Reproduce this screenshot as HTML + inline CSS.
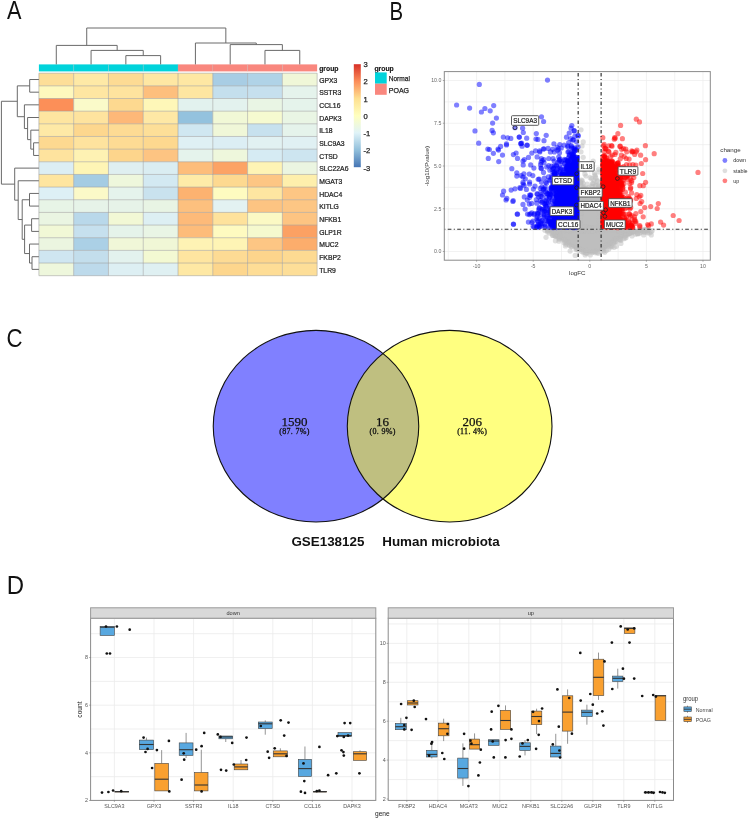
<!DOCTYPE html>
<html><head><meta charset="utf-8"><style>
html,body{margin:0;padding:0;background:#fff;}
svg{display:block;font-family:"Liberation Sans",sans-serif;will-change:transform;}
</style></head><body>
<svg width="749" height="819" viewBox="0 0 749 819">
<rect width="749" height="819" fill="#fff"/>
<text transform="translate(6.9 19.0) scale(0.85 1)" font-size="25.5" fill="#111">A</text>
<text transform="translate(389.5 19.8) scale(0.80 1)" font-size="25.5" fill="#111">B</text>
<text transform="translate(6.4 346.7) scale(0.87 1)" font-size="25.5" fill="#111">C</text>
<text transform="translate(6.8 594.4) scale(0.94 1)" font-size="25.5" fill="#111">D</text>
<rect x="38.90" y="73.20" width="34.78" height="12.66" fill="#FDDE98"/>
<rect x="73.68" y="73.20" width="34.78" height="12.66" fill="#FEE9A6"/>
<rect x="108.46" y="73.20" width="34.78" height="12.66" fill="#FDDB94"/>
<rect x="143.24" y="73.20" width="34.78" height="12.66" fill="#FEE7A3"/>
<rect x="178.02" y="73.20" width="34.78" height="12.66" fill="#FEE7A3"/>
<rect x="212.80" y="73.20" width="34.78" height="12.66" fill="#A8CDE4"/>
<rect x="247.58" y="73.20" width="34.78" height="12.66" fill="#B0D3E7"/>
<rect x="282.36" y="73.20" width="34.78" height="12.66" fill="#F0F7D8"/>
<rect x="38.90" y="85.86" width="34.78" height="12.66" fill="#FEF8BD"/>
<rect x="73.68" y="85.86" width="34.78" height="12.66" fill="#FEE6A2"/>
<rect x="108.46" y="85.86" width="34.78" height="12.66" fill="#FEE39E"/>
<rect x="143.24" y="85.86" width="34.78" height="12.66" fill="#FDBF7D"/>
<rect x="178.02" y="85.86" width="34.78" height="12.66" fill="#FEE6A1"/>
<rect x="212.80" y="85.86" width="34.78" height="12.66" fill="#C4DFED"/>
<rect x="247.58" y="85.86" width="34.78" height="12.66" fill="#C6E0EE"/>
<rect x="282.36" y="85.86" width="34.78" height="12.66" fill="#E5F3EC"/>
<rect x="38.90" y="98.51" width="34.78" height="12.66" fill="#FC8F58"/>
<rect x="73.68" y="98.51" width="34.78" height="12.66" fill="#FAFAC9"/>
<rect x="108.46" y="98.51" width="34.78" height="12.66" fill="#FDD990"/>
<rect x="143.24" y="98.51" width="34.78" height="12.66" fill="#FEF7B8"/>
<rect x="178.02" y="98.51" width="34.78" height="12.66" fill="#E2F2EE"/>
<rect x="212.80" y="98.51" width="34.78" height="12.66" fill="#E3F2EE"/>
<rect x="247.58" y="98.51" width="34.78" height="12.66" fill="#E9F5E4"/>
<rect x="282.36" y="98.51" width="34.78" height="12.66" fill="#E5F3EB"/>
<rect x="38.90" y="111.17" width="34.78" height="12.66" fill="#FEE5A0"/>
<rect x="73.68" y="111.17" width="34.78" height="12.66" fill="#FEE39E"/>
<rect x="108.46" y="111.17" width="34.78" height="12.66" fill="#FDB878"/>
<rect x="143.24" y="111.17" width="34.78" height="12.66" fill="#FEE8A5"/>
<rect x="178.02" y="111.17" width="34.78" height="12.66" fill="#94C2DE"/>
<rect x="212.80" y="111.17" width="34.78" height="12.66" fill="#F1F8D6"/>
<rect x="247.58" y="111.17" width="34.78" height="12.66" fill="#F6FAD0"/>
<rect x="282.36" y="111.17" width="34.78" height="12.66" fill="#E9F5E4"/>
<rect x="38.90" y="123.82" width="34.78" height="12.66" fill="#FEE9A6"/>
<rect x="73.68" y="123.82" width="34.78" height="12.66" fill="#FDD78E"/>
<rect x="108.46" y="123.82" width="34.78" height="12.66" fill="#FDDB94"/>
<rect x="143.24" y="123.82" width="34.78" height="12.66" fill="#FDDF98"/>
<rect x="178.02" y="123.82" width="34.78" height="12.66" fill="#D0E7F1"/>
<rect x="212.80" y="123.82" width="34.78" height="12.66" fill="#F0F7D8"/>
<rect x="247.58" y="123.82" width="34.78" height="12.66" fill="#C7E1EE"/>
<rect x="282.36" y="123.82" width="34.78" height="12.66" fill="#E5F3EB"/>
<rect x="38.90" y="136.48" width="34.78" height="12.66" fill="#FDD990"/>
<rect x="73.68" y="136.48" width="34.78" height="12.66" fill="#FEE39E"/>
<rect x="108.46" y="136.48" width="34.78" height="12.66" fill="#FDDB94"/>
<rect x="143.24" y="136.48" width="34.78" height="12.66" fill="#FDD88F"/>
<rect x="178.02" y="136.48" width="34.78" height="12.66" fill="#DFF0F4"/>
<rect x="212.80" y="136.48" width="34.78" height="12.66" fill="#DCEEF4"/>
<rect x="247.58" y="136.48" width="34.78" height="12.66" fill="#E1F1F2"/>
<rect x="282.36" y="136.48" width="34.78" height="12.66" fill="#E0F0F3"/>
<rect x="38.90" y="149.14" width="34.78" height="12.66" fill="#FEE39E"/>
<rect x="73.68" y="149.14" width="34.78" height="12.66" fill="#FEF2B3"/>
<rect x="108.46" y="149.14" width="34.78" height="12.66" fill="#FDD58C"/>
<rect x="143.24" y="149.14" width="34.78" height="12.66" fill="#FDC482"/>
<rect x="178.02" y="149.14" width="34.78" height="12.66" fill="#E5F3EC"/>
<rect x="212.80" y="149.14" width="34.78" height="12.66" fill="#EEF7DC"/>
<rect x="247.58" y="149.14" width="34.78" height="12.66" fill="#D6EBF3"/>
<rect x="282.36" y="149.14" width="34.78" height="12.66" fill="#CDE5F0"/>
<rect x="38.90" y="161.79" width="34.78" height="12.66" fill="#DCEEF4"/>
<rect x="73.68" y="161.79" width="34.78" height="12.66" fill="#FEF5B5"/>
<rect x="108.46" y="161.79" width="34.78" height="12.66" fill="#DFEFF0"/>
<rect x="143.24" y="161.79" width="34.78" height="12.66" fill="#DAEDF2"/>
<rect x="178.02" y="161.79" width="34.78" height="12.66" fill="#FDBD7B"/>
<rect x="212.80" y="161.79" width="34.78" height="12.66" fill="#FCA365"/>
<rect x="247.58" y="161.79" width="34.78" height="12.66" fill="#FEF4B5"/>
<rect x="282.36" y="161.79" width="34.78" height="12.66" fill="#EBF5E1"/>
<rect x="38.90" y="174.45" width="34.78" height="12.66" fill="#FEE59F"/>
<rect x="73.68" y="174.45" width="34.78" height="12.66" fill="#A5CCE3"/>
<rect x="108.46" y="174.45" width="34.78" height="12.66" fill="#EEF7DC"/>
<rect x="143.24" y="174.45" width="34.78" height="12.66" fill="#D3E9F2"/>
<rect x="178.02" y="174.45" width="34.78" height="12.66" fill="#FEEBA8"/>
<rect x="212.80" y="174.45" width="34.78" height="12.66" fill="#FDD990"/>
<rect x="247.58" y="174.45" width="34.78" height="12.66" fill="#FDC684"/>
<rect x="282.36" y="174.45" width="34.78" height="12.66" fill="#FEEFAC"/>
<rect x="38.90" y="187.10" width="34.78" height="12.66" fill="#DDF0F5"/>
<rect x="73.68" y="187.10" width="34.78" height="12.66" fill="#FBF9C8"/>
<rect x="108.46" y="187.10" width="34.78" height="12.66" fill="#E5F3EC"/>
<rect x="143.24" y="187.10" width="34.78" height="12.66" fill="#C9E2EE"/>
<rect x="178.02" y="187.10" width="34.78" height="12.66" fill="#FCB270"/>
<rect x="212.80" y="187.10" width="34.78" height="12.66" fill="#FEFBC0"/>
<rect x="247.58" y="187.10" width="34.78" height="12.66" fill="#FEE6A1"/>
<rect x="282.36" y="187.10" width="34.78" height="12.66" fill="#FDC684"/>
<rect x="38.90" y="199.76" width="34.78" height="12.66" fill="#E7F4E6"/>
<rect x="73.68" y="199.76" width="34.78" height="12.66" fill="#E6F3E8"/>
<rect x="108.46" y="199.76" width="34.78" height="12.66" fill="#E6F3E8"/>
<rect x="143.24" y="199.76" width="34.78" height="12.66" fill="#E8F4E4"/>
<rect x="178.02" y="199.76" width="34.78" height="12.66" fill="#FDC07E"/>
<rect x="212.80" y="199.76" width="34.78" height="12.66" fill="#E3F2F2"/>
<rect x="247.58" y="199.76" width="34.78" height="12.66" fill="#FDC482"/>
<rect x="282.36" y="199.76" width="34.78" height="12.66" fill="#FDC684"/>
<rect x="38.90" y="212.42" width="34.78" height="12.66" fill="#EAF5E2"/>
<rect x="73.68" y="212.42" width="34.78" height="12.66" fill="#B9D8EA"/>
<rect x="108.46" y="212.42" width="34.78" height="12.66" fill="#F2F8D5"/>
<rect x="143.24" y="212.42" width="34.78" height="12.66" fill="#DDEFF3"/>
<rect x="178.02" y="212.42" width="34.78" height="12.66" fill="#FDBA79"/>
<rect x="212.80" y="212.42" width="34.78" height="12.66" fill="#FEE29C"/>
<rect x="247.58" y="212.42" width="34.78" height="12.66" fill="#FBF9C4"/>
<rect x="282.36" y="212.42" width="34.78" height="12.66" fill="#FDC482"/>
<rect x="38.90" y="225.07" width="34.78" height="12.66" fill="#F1F8D6"/>
<rect x="73.68" y="225.07" width="34.78" height="12.66" fill="#C6E0EE"/>
<rect x="108.46" y="225.07" width="34.78" height="12.66" fill="#E5F3EA"/>
<rect x="143.24" y="225.07" width="34.78" height="12.66" fill="#E9F5E5"/>
<rect x="178.02" y="225.07" width="34.78" height="12.66" fill="#FDBC7A"/>
<rect x="212.80" y="225.07" width="34.78" height="12.66" fill="#FEFAC0"/>
<rect x="247.58" y="225.07" width="34.78" height="12.66" fill="#F5F9CE"/>
<rect x="282.36" y="225.07" width="34.78" height="12.66" fill="#FCA163"/>
<rect x="38.90" y="237.73" width="34.78" height="12.66" fill="#EBF5E0"/>
<rect x="73.68" y="237.73" width="34.78" height="12.66" fill="#ABD0E6"/>
<rect x="108.46" y="237.73" width="34.78" height="12.66" fill="#F0F7D8"/>
<rect x="143.24" y="237.73" width="34.78" height="12.66" fill="#F0F7D6"/>
<rect x="178.02" y="237.73" width="34.78" height="12.66" fill="#FEF3B4"/>
<rect x="212.80" y="237.73" width="34.78" height="12.66" fill="#FEF4B5"/>
<rect x="247.58" y="237.73" width="34.78" height="12.66" fill="#FDC684"/>
<rect x="282.36" y="237.73" width="34.78" height="12.66" fill="#FCAD6C"/>
<rect x="38.90" y="250.38" width="34.78" height="12.66" fill="#CFE6F1"/>
<rect x="73.68" y="250.38" width="34.78" height="12.66" fill="#C3DEEC"/>
<rect x="108.46" y="250.38" width="34.78" height="12.66" fill="#E3F2EE"/>
<rect x="143.24" y="250.38" width="34.78" height="12.66" fill="#F3F9D2"/>
<rect x="178.02" y="250.38" width="34.78" height="12.66" fill="#FEE5A0"/>
<rect x="212.80" y="250.38" width="34.78" height="12.66" fill="#FDDB94"/>
<rect x="247.58" y="250.38" width="34.78" height="12.66" fill="#FDD58C"/>
<rect x="282.36" y="250.38" width="34.78" height="12.66" fill="#FDDA92"/>
<rect x="38.90" y="263.04" width="34.78" height="12.66" fill="#EEF7DC"/>
<rect x="73.68" y="263.04" width="34.78" height="12.66" fill="#BDDAEB"/>
<rect x="108.46" y="263.04" width="34.78" height="12.66" fill="#DDEFF3"/>
<rect x="143.24" y="263.04" width="34.78" height="12.66" fill="#DFF0F2"/>
<rect x="178.02" y="263.04" width="34.78" height="12.66" fill="#FEE8A4"/>
<rect x="212.80" y="263.04" width="34.78" height="12.66" fill="#FDD68D"/>
<rect x="247.58" y="263.04" width="34.78" height="12.66" fill="#FEDD96"/>
<rect x="282.36" y="263.04" width="34.78" height="12.66" fill="#FDDE98"/>
<path d="M38.90 73.20V275.70M73.68 73.20V275.70M108.46 73.20V275.70M143.24 73.20V275.70M178.02 73.20V275.70M212.80 73.20V275.70M247.58 73.20V275.70M282.36 73.20V275.70M317.14 73.20V275.70M38.90 73.20H317.14M38.90 85.86H317.14M38.90 98.51H317.14M38.90 111.17H317.14M38.90 123.82H317.14M38.90 136.48H317.14M38.90 149.14H317.14M38.90 161.79H317.14M38.90 174.45H317.14M38.90 187.10H317.14M38.90 199.76H317.14M38.90 212.42H317.14M38.90 225.07H317.14M38.90 237.73H317.14M38.90 250.38H317.14M38.90 263.04H317.14M38.90 275.70H317.14" stroke="#999" stroke-width="0.7" stroke-opacity="0.75" fill="none"/>
<rect x="38.90" y="64.40" width="34.78" height="7.00" fill="#00D3DB"/>
<rect x="73.68" y="64.40" width="34.78" height="7.00" fill="#00D3DB"/>
<rect x="108.46" y="64.40" width="34.78" height="7.00" fill="#00D3DB"/>
<rect x="143.24" y="64.40" width="34.78" height="7.00" fill="#00D3DB"/>
<rect x="178.02" y="64.40" width="34.78" height="7.00" fill="#F9877E"/>
<rect x="212.80" y="64.40" width="34.78" height="7.00" fill="#F9877E"/>
<rect x="247.58" y="64.40" width="34.78" height="7.00" fill="#F9877E"/>
<rect x="282.36" y="64.40" width="34.78" height="7.00" fill="#F9877E"/>
<path d="M73.68 64.40V71.40M108.46 64.40V71.40M143.24 64.40V71.40M178.02 64.40V71.40M212.80 64.40V71.40M247.58 64.40V71.40M282.36 64.40V71.40" stroke="#b0b0b0" stroke-width="0.6" fill="none" opacity="0.6"/>
<path d="M125.85 64.40V55.60H160.63V64.40M91.07 64.40V50.40H143.24V55.60M56.29 64.40V45.40H117.16V50.40M264.97 64.40V50.40H299.75V64.40M230.19 64.40V44.60H282.36V50.40M195.41 64.40V43.00H256.28V44.60M86.72 45.40V28.00H225.84V43.00" stroke="#6a6a6a" stroke-width="1" fill="none"/>
<path d="M38.90 142.81H33.60V155.46H38.90M38.90 130.15H30.80V149.14H33.60M38.90 117.50H27.60V139.64H30.80M38.90 104.84H24.40V128.57H27.60M38.90 79.53H29.70V92.18H38.90M29.70 85.86H17.30V116.70H24.40M38.90 256.71H32.00V269.37H38.90M38.90 244.06H29.50V263.04H32.00M38.90 218.74H31.60V231.40H38.90M31.60 225.07H24.60V253.55H29.50M38.90 193.43H29.50V206.09H38.90M29.50 199.76H22.20V239.31H24.60M38.90 180.78H18.20V219.54H22.20M38.90 168.12H14.70V200.16H18.20M17.30 101.28H1.40V184.14H14.70" stroke="#6a6a6a" stroke-width="1" fill="none"/>
<g transform="translate(319.2 0) scale(0.9 1)">
<text x="0" y="70.90" font-size="7.6" font-weight="bold" fill="#1a1a1a" stroke="#1a1a1a" stroke-width="0.2">group</text>
<text x="0" y="82.83" font-size="7.6" fill="#222" stroke="#222" stroke-width="0.25">GPX3</text>
<text x="0" y="95.48" font-size="7.6" fill="#222" stroke="#222" stroke-width="0.25">SSTR3</text>
<text x="0" y="108.14" font-size="7.6" fill="#222" stroke="#222" stroke-width="0.25">CCL16</text>
<text x="0" y="120.80" font-size="7.6" fill="#222" stroke="#222" stroke-width="0.25">DAPK3</text>
<text x="0" y="133.45" font-size="7.6" fill="#222" stroke="#222" stroke-width="0.25">IL18</text>
<text x="0" y="146.11" font-size="7.6" fill="#222" stroke="#222" stroke-width="0.25">SLC9A3</text>
<text x="0" y="158.76" font-size="7.6" fill="#222" stroke="#222" stroke-width="0.25">CTSD</text>
<text x="0" y="171.42" font-size="7.6" fill="#222" stroke="#222" stroke-width="0.25">SLC22A6</text>
<text x="0" y="184.08" font-size="7.6" fill="#222" stroke="#222" stroke-width="0.25">MGAT3</text>
<text x="0" y="196.73" font-size="7.6" fill="#222" stroke="#222" stroke-width="0.25">HDAC4</text>
<text x="0" y="209.39" font-size="7.6" fill="#222" stroke="#222" stroke-width="0.25">KITLG</text>
<text x="0" y="222.04" font-size="7.6" fill="#222" stroke="#222" stroke-width="0.25">NFKB1</text>
<text x="0" y="234.70" font-size="7.6" fill="#222" stroke="#222" stroke-width="0.25">GLP1R</text>
<text x="0" y="247.36" font-size="7.6" fill="#222" stroke="#222" stroke-width="0.25">MUC2</text>
<text x="0" y="260.01" font-size="7.6" fill="#222" stroke="#222" stroke-width="0.25">FKBP2</text>
<text x="0" y="272.67" font-size="7.6" fill="#222" stroke="#222" stroke-width="0.25">TLR9</text>
</g>
<defs><linearGradient id="hg" x1="0" y1="0" x2="0" y2="1"><stop offset="0" stop-color="#D73027"/><stop offset="0.1667" stop-color="#FC8D59"/><stop offset="0.3333" stop-color="#FEE090"/><stop offset="0.5" stop-color="#FFFFBF"/><stop offset="0.6667" stop-color="#E0F3F8"/><stop offset="0.8333" stop-color="#91BFDB"/><stop offset="1" stop-color="#4575B4"/></linearGradient></defs>
<rect x="353.8" y="64.2" width="7" height="103" fill="url(#hg)"/>
<text x="363.4" y="67.20" font-size="7.6" fill="#222" stroke="#222" stroke-width="0.25">3</text>
<text x="363.4" y="84.45" font-size="7.6" fill="#222" stroke="#222" stroke-width="0.25">2</text>
<text x="363.4" y="101.70" font-size="7.6" fill="#222" stroke="#222" stroke-width="0.25">1</text>
<text x="363.4" y="118.95" font-size="7.6" fill="#222" stroke="#222" stroke-width="0.25">0</text>
<text x="363.4" y="136.20" font-size="7.6" fill="#222" stroke="#222" stroke-width="0.25">-1</text>
<text x="363.4" y="153.45" font-size="7.6" fill="#222" stroke="#222" stroke-width="0.25">-2</text>
<text x="363.4" y="170.70" font-size="7.6" fill="#222" stroke="#222" stroke-width="0.25">-3</text>
<text transform="translate(374.4 70.6) scale(0.9 1)" font-size="7.6" font-weight="bold" fill="#1a1a1a" stroke="#1a1a1a" stroke-width="0.2">group</text>
<rect x="375" y="72.4" width="11.7" height="11.3" fill="#00D3DB"/>
<rect x="375" y="83.7" width="11.7" height="11.1" fill="#F9877E"/>
<text x="388.7" y="81.1" textLength="21.2" lengthAdjust="spacingAndGlyphs" font-size="7.6" fill="#222" stroke="#222" stroke-width="0.25">Normal</text>
<text x="388.7" y="92.7" textLength="20.4" lengthAdjust="spacingAndGlyphs" font-size="7.6" fill="#222" stroke="#222" stroke-width="0.25">POAG</text>
<rect x="444.30" y="71.60" width="266.00" height="188.60" fill="#fff"/>
<path d="M448.30 71.60V260.20M476.60 71.60V260.20M504.90 71.60V260.20M533.20 71.60V260.20M561.50 71.60V260.20M589.80 71.60V260.20M618.10 71.60V260.20M646.40 71.60V260.20M674.70 71.60V260.20M703.00 71.60V260.20M444.30 251.50H710.30M444.30 230.12H710.30M444.30 208.75H710.30M444.30 187.38H710.30M444.30 166.00H710.30M444.30 144.62H710.30M444.30 123.25H710.30M444.30 101.88H710.30M444.30 80.50H710.30" stroke="#ececec" stroke-width="0.7" fill="none"/>
<polygon points="546.7,229.0 551.0,234.0 556.0,238.0 563.0,241.0 570.0,246.0 574.4,249.0 582.0,252.0 590.0,253.4 598.0,252.0 605.0,249.0 611.0,245.0 616.0,241.0 625.0,237.0 638.0,233.0 652.0,230.0 652.0,228.8" fill="#BEBEBE"/>
<polygon points="578.5,228.8 578.5,200.0 581.0,192.0 590.0,196.0 598.0,192.0 601.5,200.0 601.5,228.8" fill="#BEBEBE"/>
<g fill="#BEBEBE" fill-opacity="0.5"><circle cx="618.1" cy="231.2" r="2.60"/><circle cx="583.9" cy="230.8" r="2.60"/><circle cx="554.9" cy="235.2" r="2.60"/><circle cx="547.5" cy="230.8" r="2.60"/><circle cx="569.3" cy="244.6" r="2.60"/><circle cx="630.9" cy="233.3" r="2.60"/><circle cx="594.7" cy="251.7" r="2.60"/><circle cx="554.1" cy="230.8" r="2.60"/><circle cx="555.5" cy="235.9" r="2.60"/><circle cx="644.6" cy="231.4" r="2.60"/><circle cx="571.5" cy="229.4" r="2.60"/><circle cx="614.1" cy="247.3" r="2.60"/><circle cx="580.8" cy="230.7" r="2.60"/><circle cx="583.6" cy="229.9" r="2.60"/><circle cx="639.5" cy="233.6" r="2.60"/><circle cx="605.2" cy="230.0" r="2.60"/><circle cx="567.2" cy="243.1" r="2.60"/><circle cx="636.0" cy="231.5" r="2.60"/><circle cx="555.7" cy="229.6" r="2.60"/><circle cx="592.1" cy="252.6" r="2.60"/><circle cx="602.8" cy="229.8" r="2.60"/><circle cx="562.0" cy="229.4" r="2.60"/><circle cx="634.1" cy="232.1" r="2.60"/><circle cx="613.5" cy="242.8" r="2.60"/><circle cx="593.1" cy="231.2" r="2.60"/><circle cx="578.2" cy="248.6" r="2.60"/><circle cx="601.5" cy="231.0" r="2.60"/><circle cx="571.9" cy="230.3" r="2.60"/><circle cx="550.7" cy="230.8" r="2.60"/><circle cx="591.0" cy="231.2" r="2.60"/><circle cx="642.7" cy="231.0" r="2.60"/><circle cx="553.1" cy="233.6" r="2.60"/><circle cx="576.6" cy="249.6" r="2.60"/><circle cx="581.6" cy="229.7" r="2.60"/><circle cx="599.4" cy="251.6" r="2.60"/><circle cx="581.7" cy="230.7" r="2.60"/><circle cx="558.9" cy="241.2" r="2.60"/><circle cx="582.8" cy="229.3" r="2.60"/><circle cx="564.1" cy="242.8" r="2.60"/><circle cx="587.9" cy="230.4" r="2.60"/><circle cx="610.3" cy="243.4" r="2.60"/><circle cx="617.2" cy="230.4" r="2.60"/><circle cx="637.5" cy="233.0" r="2.60"/><circle cx="598.7" cy="229.3" r="2.60"/><circle cx="619.1" cy="231.0" r="2.60"/><circle cx="570.3" cy="231.2" r="2.60"/><circle cx="627.5" cy="234.7" r="2.60"/><circle cx="549.3" cy="233.2" r="2.60"/><circle cx="595.1" cy="251.2" r="2.60"/><circle cx="624.4" cy="235.4" r="2.60"/><circle cx="598.3" cy="229.9" r="2.60"/><circle cx="640.8" cy="229.3" r="2.60"/><circle cx="640.7" cy="232.5" r="2.60"/><circle cx="562.8" cy="239.2" r="2.60"/><circle cx="626.3" cy="230.6" r="2.60"/><circle cx="575.7" cy="249.0" r="2.60"/><circle cx="571.2" cy="246.8" r="2.60"/><circle cx="580.6" cy="230.9" r="2.60"/><circle cx="555.4" cy="236.0" r="2.60"/><circle cx="612.1" cy="229.5" r="2.60"/><circle cx="576.9" cy="229.8" r="2.60"/><circle cx="620.9" cy="240.5" r="2.60"/><circle cx="619.7" cy="239.4" r="2.60"/><circle cx="647.6" cy="230.1" r="2.60"/><circle cx="626.0" cy="237.7" r="2.60"/><circle cx="568.1" cy="242.0" r="2.60"/><circle cx="547.8" cy="230.2" r="2.60"/><circle cx="611.5" cy="245.8" r="2.60"/><circle cx="611.9" cy="246.7" r="2.60"/><circle cx="547.6" cy="232.0" r="2.60"/><circle cx="606.0" cy="246.3" r="2.60"/><circle cx="557.5" cy="236.8" r="2.60"/><circle cx="597.9" cy="230.7" r="2.60"/><circle cx="586.5" cy="253.4" r="2.60"/><circle cx="554.8" cy="235.9" r="2.60"/><circle cx="647.7" cy="230.4" r="2.60"/><circle cx="630.9" cy="230.3" r="2.60"/><circle cx="555.4" cy="240.8" r="2.60"/><circle cx="582.1" cy="249.5" r="2.60"/><circle cx="583.2" cy="252.6" r="2.60"/><circle cx="629.2" cy="230.5" r="2.60"/><circle cx="610.3" cy="247.0" r="2.60"/><circle cx="613.9" cy="240.8" r="2.60"/><circle cx="647.5" cy="232.8" r="2.60"/><circle cx="618.4" cy="229.8" r="2.60"/><circle cx="610.0" cy="245.0" r="2.60"/><circle cx="614.9" cy="242.0" r="2.60"/><circle cx="568.5" cy="230.8" r="2.60"/><circle cx="613.0" cy="242.8" r="2.60"/><circle cx="637.6" cy="233.9" r="2.60"/><circle cx="576.0" cy="230.5" r="2.60"/><circle cx="552.6" cy="235.5" r="2.60"/><circle cx="580.3" cy="249.3" r="2.60"/><circle cx="645.6" cy="229.7" r="2.60"/><circle cx="565.4" cy="245.9" r="2.60"/><circle cx="649.3" cy="233.1" r="2.60"/><circle cx="557.0" cy="230.0" r="2.60"/><circle cx="628.4" cy="231.0" r="2.60"/><circle cx="583.6" cy="251.1" r="2.60"/><circle cx="647.0" cy="231.0" r="2.60"/><circle cx="614.2" cy="230.1" r="2.60"/><circle cx="643.5" cy="231.7" r="2.60"/><circle cx="560.4" cy="229.3" r="2.60"/><circle cx="635.6" cy="234.2" r="2.60"/><circle cx="581.7" cy="251.5" r="2.60"/><circle cx="615.4" cy="238.8" r="2.60"/><circle cx="587.4" cy="253.1" r="2.60"/><circle cx="646.6" cy="229.9" r="2.60"/><circle cx="585.5" cy="252.9" r="2.60"/><circle cx="629.0" cy="233.8" r="2.60"/><circle cx="595.4" cy="252.9" r="2.60"/><circle cx="559.3" cy="238.0" r="2.60"/><circle cx="564.8" cy="239.6" r="2.60"/><circle cx="614.6" cy="240.2" r="2.60"/><circle cx="608.9" cy="243.7" r="2.60"/><circle cx="623.8" cy="238.7" r="2.60"/><circle cx="616.1" cy="241.8" r="2.60"/><circle cx="562.3" cy="229.3" r="2.60"/><circle cx="619.1" cy="238.9" r="2.60"/><circle cx="642.5" cy="230.8" r="2.60"/><circle cx="603.7" cy="249.1" r="2.60"/><circle cx="599.2" cy="230.8" r="2.60"/><circle cx="604.7" cy="252.3" r="2.60"/><circle cx="590.3" cy="254.9" r="2.60"/><circle cx="616.4" cy="246.3" r="2.60"/><circle cx="598.2" cy="253.3" r="2.60"/><circle cx="603.1" cy="249.9" r="2.60"/><circle cx="546.0" cy="237.3" r="2.60"/><circle cx="561.8" cy="230.2" r="2.60"/><circle cx="652.1" cy="230.7" r="2.60"/><circle cx="558.2" cy="229.7" r="2.60"/><circle cx="555.5" cy="229.7" r="2.60"/><circle cx="626.1" cy="229.6" r="2.60"/><circle cx="577.3" cy="248.8" r="2.60"/><circle cx="586.3" cy="250.3" r="2.60"/><circle cx="574.0" cy="229.3" r="2.60"/><circle cx="606.4" cy="250.6" r="2.60"/><circle cx="557.9" cy="230.4" r="2.60"/><circle cx="602.3" cy="229.8" r="2.60"/><circle cx="570.5" cy="230.3" r="2.60"/><circle cx="607.7" cy="246.4" r="2.60"/><circle cx="620.4" cy="239.8" r="2.60"/><circle cx="566.6" cy="230.3" r="2.60"/><circle cx="640.5" cy="230.5" r="2.60"/><circle cx="621.3" cy="229.6" r="2.60"/><circle cx="563.4" cy="230.2" r="2.60"/><circle cx="615.4" cy="241.4" r="2.60"/><circle cx="565.3" cy="242.0" r="2.60"/><circle cx="651.0" cy="231.9" r="2.60"/><circle cx="647.5" cy="230.8" r="2.60"/><circle cx="575.2" cy="255.4" r="2.60"/><circle cx="566.2" cy="244.5" r="2.60"/><circle cx="563.6" cy="231.4" r="2.60"/><circle cx="613.0" cy="242.5" r="2.60"/><circle cx="626.6" cy="230.7" r="2.60"/><circle cx="599.2" cy="229.7" r="2.60"/><circle cx="597.2" cy="252.6" r="2.60"/><circle cx="559.6" cy="239.2" r="2.60"/><circle cx="578.5" cy="248.3" r="2.60"/><circle cx="630.2" cy="230.9" r="2.60"/><circle cx="570.1" cy="251.1" r="2.60"/><circle cx="602.7" cy="248.0" r="2.60"/><circle cx="608.7" cy="249.2" r="2.60"/><circle cx="590.5" cy="251.7" r="2.60"/><circle cx="615.9" cy="239.0" r="2.60"/><circle cx="621.4" cy="236.6" r="2.60"/><circle cx="605.8" cy="245.6" r="2.60"/><circle cx="566.6" cy="243.0" r="2.60"/><circle cx="610.3" cy="229.6" r="2.60"/><circle cx="559.0" cy="231.0" r="2.60"/><circle cx="592.8" cy="230.9" r="2.60"/><circle cx="553.1" cy="235.3" r="2.60"/><circle cx="628.6" cy="233.4" r="2.60"/><circle cx="602.1" cy="249.0" r="2.60"/><circle cx="644.5" cy="229.4" r="2.60"/><circle cx="610.3" cy="242.6" r="2.60"/><circle cx="578.6" cy="250.3" r="2.60"/><circle cx="564.5" cy="240.7" r="2.60"/><circle cx="602.1" cy="247.6" r="2.60"/><circle cx="607.4" cy="244.6" r="2.60"/><circle cx="603.6" cy="251.1" r="2.60"/><circle cx="558.8" cy="237.0" r="2.60"/><circle cx="576.8" cy="247.7" r="2.60"/><circle cx="571.9" cy="246.6" r="2.60"/><circle cx="552.0" cy="233.8" r="2.60"/><circle cx="547.5" cy="229.6" r="2.60"/><circle cx="578.7" cy="248.4" r="2.60"/><circle cx="586.3" cy="230.7" r="2.60"/><circle cx="626.2" cy="235.2" r="2.60"/><circle cx="588.4" cy="231.0" r="2.60"/><circle cx="568.5" cy="230.2" r="2.60"/><circle cx="593.2" cy="251.6" r="2.60"/><circle cx="559.1" cy="238.7" r="2.60"/><circle cx="585.2" cy="254.9" r="2.60"/><circle cx="624.8" cy="236.2" r="2.60"/><circle cx="569.6" cy="245.5" r="2.60"/><circle cx="644.7" cy="232.5" r="2.60"/><circle cx="573.2" cy="230.0" r="2.60"/><circle cx="619.6" cy="238.7" r="2.60"/><circle cx="544.9" cy="230.3" r="2.60"/><circle cx="596.8" cy="192.2" r="2.60"/><circle cx="596.3" cy="194.2" r="2.60"/><circle cx="580.8" cy="201.2" r="2.60"/><circle cx="592.5" cy="186.3" r="2.60"/><circle cx="582.8" cy="188.1" r="2.60"/><circle cx="599.2" cy="188.1" r="2.60"/><circle cx="592.6" cy="194.2" r="2.60"/><circle cx="580.0" cy="214.3" r="2.60"/><circle cx="599.1" cy="220.6" r="2.60"/><circle cx="599.1" cy="225.7" r="2.60"/><circle cx="587.3" cy="189.7" r="2.60"/><circle cx="584.4" cy="189.0" r="2.60"/><circle cx="590.1" cy="190.5" r="2.60"/><circle cx="580.3" cy="191.0" r="2.60"/><circle cx="580.8" cy="191.9" r="2.60"/><circle cx="583.6" cy="187.2" r="2.60"/><circle cx="587.6" cy="168.3" r="2.60"/><circle cx="591.4" cy="166.5" r="2.60"/><circle cx="589.0" cy="228.0" r="2.60"/><circle cx="598.8" cy="228.5" r="2.60"/><circle cx="592.4" cy="194.8" r="2.60"/><circle cx="591.4" cy="228.1" r="2.60"/><circle cx="598.9" cy="191.6" r="2.60"/><circle cx="580.9" cy="194.0" r="2.60"/><circle cx="589.7" cy="191.3" r="2.60"/><circle cx="591.1" cy="228.1" r="2.60"/><circle cx="590.9" cy="197.0" r="2.60"/><circle cx="587.1" cy="228.3" r="2.60"/><circle cx="584.7" cy="227.6" r="2.60"/><circle cx="581.3" cy="195.8" r="2.60"/><circle cx="598.5" cy="194.1" r="2.60"/><circle cx="584.2" cy="188.7" r="2.60"/><circle cx="582.2" cy="226.8" r="2.60"/><circle cx="580.7" cy="182.6" r="2.60"/><circle cx="582.3" cy="180.9" r="2.60"/><circle cx="588.0" cy="187.5" r="2.60"/><circle cx="580.2" cy="199.9" r="2.60"/><circle cx="599.3" cy="217.4" r="2.60"/><circle cx="585.0" cy="192.6" r="2.60"/><circle cx="586.4" cy="195.9" r="2.60"/><circle cx="586.2" cy="226.6" r="2.60"/><circle cx="584.6" cy="194.3" r="2.60"/><circle cx="590.2" cy="177.7" r="2.60"/><circle cx="587.7" cy="229.0" r="2.60"/><circle cx="587.2" cy="184.1" r="2.60"/><circle cx="595.5" cy="193.2" r="2.60"/><circle cx="580.5" cy="190.9" r="2.60"/><circle cx="594.5" cy="172.9" r="2.60"/><circle cx="593.9" cy="180.5" r="2.60"/><circle cx="599.6" cy="212.0" r="2.60"/><circle cx="580.1" cy="228.2" r="2.60"/><circle cx="581.0" cy="185.6" r="2.60"/><circle cx="595.7" cy="190.8" r="2.60"/><circle cx="580.9" cy="216.3" r="2.60"/><circle cx="588.1" cy="197.1" r="2.60"/><circle cx="580.8" cy="213.8" r="2.60"/><circle cx="584.5" cy="189.9" r="2.60"/><circle cx="599.2" cy="171.9" r="2.60"/><circle cx="587.4" cy="195.4" r="2.60"/><circle cx="599.5" cy="223.5" r="2.60"/><circle cx="591.7" cy="186.0" r="2.60"/><circle cx="591.7" cy="178.5" r="2.60"/><circle cx="582.6" cy="189.5" r="2.60"/><circle cx="587.3" cy="197.5" r="2.60"/><circle cx="597.1" cy="180.3" r="2.60"/><circle cx="580.3" cy="223.9" r="2.60"/><circle cx="591.7" cy="227.6" r="2.60"/><circle cx="580.2" cy="223.6" r="2.60"/><circle cx="599.1" cy="229.0" r="2.60"/><circle cx="595.7" cy="190.6" r="2.60"/><circle cx="580.1" cy="181.1" r="2.60"/><circle cx="588.2" cy="192.0" r="2.60"/><circle cx="596.6" cy="193.4" r="2.60"/><circle cx="588.7" cy="197.3" r="2.60"/><circle cx="580.8" cy="212.6" r="2.60"/><circle cx="589.9" cy="228.2" r="2.60"/><circle cx="581.5" cy="193.8" r="2.60"/><circle cx="582.8" cy="190.4" r="2.60"/><circle cx="599.2" cy="196.2" r="2.60"/><circle cx="598.0" cy="184.9" r="2.60"/><circle cx="580.8" cy="212.9" r="2.60"/><circle cx="599.0" cy="194.7" r="2.60"/><circle cx="593.1" cy="189.5" r="2.60"/><circle cx="593.8" cy="192.7" r="2.60"/><circle cx="581.3" cy="191.9" r="2.60"/><circle cx="599.1" cy="210.6" r="2.60"/><circle cx="580.8" cy="213.0" r="2.60"/><circle cx="584.4" cy="194.3" r="2.60"/><circle cx="586.5" cy="188.6" r="2.60"/><circle cx="595.9" cy="185.6" r="2.60"/><circle cx="594.2" cy="190.1" r="2.60"/><circle cx="590.0" cy="190.5" r="2.60"/><circle cx="597.0" cy="228.8" r="2.60"/><circle cx="581.4" cy="180.0" r="2.60"/><circle cx="599.1" cy="205.5" r="2.60"/><circle cx="580.2" cy="216.4" r="2.60"/><circle cx="583.2" cy="194.6" r="2.60"/><circle cx="595.8" cy="177.9" r="2.60"/><circle cx="589.2" cy="228.4" r="2.60"/><circle cx="580.4" cy="220.7" r="2.60"/><circle cx="598.5" cy="227.4" r="2.60"/><circle cx="584.2" cy="190.2" r="2.60"/><circle cx="580.2" cy="213.3" r="2.60"/><circle cx="589.5" cy="195.3" r="2.60"/><circle cx="591.5" cy="195.0" r="2.60"/><circle cx="584.7" cy="196.2" r="2.60"/><circle cx="598.3" cy="195.2" r="2.60"/><circle cx="583.2" cy="183.3" r="2.60"/><circle cx="589.8" cy="193.4" r="2.60"/><circle cx="580.1" cy="205.2" r="2.60"/><circle cx="599.2" cy="186.5" r="2.60"/><circle cx="599.2" cy="207.5" r="2.60"/><circle cx="588.0" cy="192.6" r="2.60"/><circle cx="580.6" cy="199.2" r="2.60"/><circle cx="599.2" cy="196.6" r="2.60"/><circle cx="599.5" cy="205.9" r="2.60"/><circle cx="584.9" cy="173.9" r="2.60"/><circle cx="595.6" cy="185.1" r="2.60"/><circle cx="594.0" cy="228.3" r="2.60"/><circle cx="580.5" cy="200.1" r="2.60"/><circle cx="580.6" cy="213.1" r="2.60"/><circle cx="593.2" cy="161.2" r="2.60"/><circle cx="591.5" cy="197.3" r="2.60"/><circle cx="587.5" cy="196.5" r="2.60"/><circle cx="581.0" cy="197.5" r="2.60"/><circle cx="592.8" cy="183.5" r="2.60"/><circle cx="591.9" cy="196.4" r="2.60"/><circle cx="580.2" cy="224.4" r="2.60"/><circle cx="589.6" cy="228.5" r="2.60"/><circle cx="583.9" cy="229.2" r="2.60"/><circle cx="580.0" cy="192.3" r="2.60"/><circle cx="592.8" cy="183.3" r="2.60"/><circle cx="580.3" cy="198.7" r="2.60"/><circle cx="592.6" cy="194.8" r="2.60"/><circle cx="597.2" cy="190.5" r="2.60"/><circle cx="593.9" cy="228.0" r="2.60"/><circle cx="580.6" cy="203.3" r="2.60"/><circle cx="585.7" cy="195.3" r="2.60"/><circle cx="598.3" cy="193.3" r="2.60"/><circle cx="588.9" cy="195.0" r="2.60"/><circle cx="580.7" cy="227.5" r="2.60"/><circle cx="595.1" cy="176.2" r="2.60"/><circle cx="584.7" cy="226.6" r="2.60"/><circle cx="589.2" cy="228.4" r="2.60"/><circle cx="596.9" cy="189.2" r="2.60"/><circle cx="588.0" cy="194.9" r="2.60"/><circle cx="595.8" cy="228.4" r="2.60"/><circle cx="582.6" cy="185.8" r="2.60"/><circle cx="580.5" cy="210.1" r="2.60"/><circle cx="586.1" cy="194.6" r="2.60"/><circle cx="581.0" cy="129.8" r="2.60"/><circle cx="583.2" cy="141.9" r="2.60"/><circle cx="581.0" cy="151.8" r="2.60"/><circle cx="583.2" cy="157.3" r="2.60"/><circle cx="582.0" cy="164.0" r="2.60"/><circle cx="584.0" cy="170.0" r="2.60"/><circle cx="598.6" cy="169.3" r="2.60"/><circle cx="597.5" cy="181.4" r="2.60"/><circle cx="586.0" cy="176.0" r="2.60"/><circle cx="580.5" cy="183.0" r="2.60"/><circle cx="595.0" cy="175.0" r="2.60"/><circle cx="582.0" cy="146.0" r="2.60"/><circle cx="599.0" cy="186.0" r="2.60"/><circle cx="651.3" cy="235.0" r="2.60"/><circle cx="643.7" cy="235.0" r="2.60"/><circle cx="637.8" cy="233.4" r="2.60"/><circle cx="620.9" cy="243.4" r="2.60"/><circle cx="556.0" cy="232.0" r="2.60"/><circle cx="560.0" cy="236.0" r="2.60"/><circle cx="625.0" cy="238.0" r="2.60"/><circle cx="632.0" cy="236.0" r="2.60"/></g>
<polygon points="579.5,228.8 552.0,228.8 553.0,218.0 555.0,205.0 557.0,195.0 560.0,185.0 564.0,175.0 569.0,166.0 573.0,159.0 579.5,155.0" fill="#0000FF"/>
<polygon points="600.5,228.8 625.0,228.8 621.0,215.0 619.5,195.0 619.0,178.0 614.0,168.0 608.0,162.0 600.5,158.0" fill="#FF0000"/>
<g fill="#0000FF" fill-opacity="0.5"><circle cx="573.6" cy="227.7" r="2.60"/><circle cx="536.0" cy="139.0" r="2.60"/><circle cx="557.7" cy="199.6" r="2.60"/><circle cx="549.2" cy="227.5" r="2.60"/><circle cx="553.2" cy="168.3" r="2.60"/><circle cx="542.4" cy="220.1" r="2.60"/><circle cx="575.0" cy="227.3" r="2.60"/><circle cx="540.8" cy="196.5" r="2.60"/><circle cx="529.5" cy="197.5" r="2.60"/><circle cx="532.9" cy="221.2" r="2.60"/><circle cx="572.6" cy="227.5" r="2.60"/><circle cx="541.6" cy="202.4" r="2.60"/><circle cx="555.3" cy="201.3" r="2.60"/><circle cx="571.8" cy="148.1" r="2.60"/><circle cx="558.6" cy="187.6" r="2.60"/><circle cx="542.1" cy="160.7" r="2.60"/><circle cx="574.9" cy="136.3" r="2.60"/><circle cx="552.2" cy="199.7" r="2.60"/><circle cx="524.1" cy="185.6" r="2.60"/><circle cx="573.4" cy="227.2" r="2.60"/><circle cx="548.0" cy="193.9" r="2.60"/><circle cx="555.9" cy="183.9" r="2.60"/><circle cx="569.3" cy="154.9" r="2.60"/><circle cx="551.6" cy="211.6" r="2.60"/><circle cx="572.1" cy="153.9" r="2.60"/><circle cx="554.4" cy="171.9" r="2.60"/><circle cx="552.9" cy="227.2" r="2.60"/><circle cx="562.7" cy="176.3" r="2.60"/><circle cx="567.3" cy="227.4" r="2.60"/><circle cx="560.1" cy="180.6" r="2.60"/><circle cx="554.6" cy="210.0" r="2.60"/><circle cx="558.1" cy="201.7" r="2.60"/><circle cx="551.6" cy="224.5" r="2.60"/><circle cx="575.0" cy="147.9" r="2.60"/><circle cx="548.1" cy="148.4" r="2.60"/><circle cx="551.9" cy="189.7" r="2.60"/><circle cx="536.9" cy="226.5" r="2.60"/><circle cx="533.9" cy="227.1" r="2.60"/><circle cx="535.6" cy="150.8" r="2.60"/><circle cx="567.6" cy="165.0" r="2.60"/><circle cx="551.0" cy="195.0" r="2.60"/><circle cx="541.0" cy="214.3" r="2.60"/><circle cx="569.2" cy="163.1" r="2.60"/><circle cx="560.5" cy="174.6" r="2.60"/><circle cx="573.6" cy="157.5" r="2.60"/><circle cx="539.2" cy="179.0" r="2.60"/><circle cx="567.4" cy="164.9" r="2.60"/><circle cx="516.8" cy="172.8" r="2.60"/><circle cx="552.2" cy="209.7" r="2.60"/><circle cx="551.8" cy="223.1" r="2.60"/><circle cx="549.5" cy="197.6" r="2.60"/><circle cx="542.4" cy="201.7" r="2.60"/><circle cx="560.1" cy="227.3" r="2.60"/><circle cx="568.6" cy="169.9" r="2.60"/><circle cx="548.7" cy="212.4" r="2.60"/><circle cx="550.6" cy="194.3" r="2.60"/><circle cx="542.0" cy="209.0" r="2.60"/><circle cx="558.7" cy="157.0" r="2.60"/><circle cx="570.5" cy="159.6" r="2.60"/><circle cx="563.2" cy="170.7" r="2.60"/><circle cx="545.2" cy="200.5" r="2.60"/><circle cx="561.7" cy="178.5" r="2.60"/><circle cx="568.7" cy="226.8" r="2.60"/><circle cx="562.3" cy="184.5" r="2.60"/><circle cx="557.0" cy="193.6" r="2.60"/><circle cx="559.8" cy="227.0" r="2.60"/><circle cx="555.0" cy="221.7" r="2.60"/><circle cx="554.6" cy="186.9" r="2.60"/><circle cx="554.7" cy="209.1" r="2.60"/><circle cx="542.3" cy="209.5" r="2.60"/><circle cx="560.0" cy="191.4" r="2.60"/><circle cx="554.4" cy="221.0" r="2.60"/><circle cx="551.0" cy="221.6" r="2.60"/><circle cx="568.7" cy="142.5" r="2.60"/><circle cx="576.7" cy="149.8" r="2.60"/><circle cx="545.1" cy="186.7" r="2.60"/><circle cx="556.3" cy="208.2" r="2.60"/><circle cx="549.9" cy="208.2" r="2.60"/><circle cx="573.3" cy="154.2" r="2.60"/><circle cx="538.0" cy="221.5" r="2.60"/><circle cx="564.7" cy="168.8" r="2.60"/><circle cx="553.9" cy="186.7" r="2.60"/><circle cx="561.7" cy="179.6" r="2.60"/><circle cx="559.5" cy="191.9" r="2.60"/><circle cx="567.7" cy="145.8" r="2.60"/><circle cx="567.2" cy="170.0" r="2.60"/><circle cx="560.4" cy="182.0" r="2.60"/><circle cx="549.3" cy="215.3" r="2.60"/><circle cx="548.7" cy="165.7" r="2.60"/><circle cx="541.4" cy="182.1" r="2.60"/><circle cx="550.4" cy="151.9" r="2.60"/><circle cx="562.8" cy="174.3" r="2.60"/><circle cx="541.0" cy="192.4" r="2.60"/><circle cx="558.6" cy="186.0" r="2.60"/><circle cx="559.3" cy="160.8" r="2.60"/><circle cx="560.4" cy="183.8" r="2.60"/><circle cx="516.8" cy="176.1" r="2.60"/><circle cx="546.0" cy="201.2" r="2.60"/><circle cx="560.9" cy="184.9" r="2.60"/><circle cx="557.7" cy="188.7" r="2.60"/><circle cx="531.6" cy="203.4" r="2.60"/><circle cx="561.8" cy="176.1" r="2.60"/><circle cx="551.2" cy="187.0" r="2.60"/><circle cx="531.8" cy="222.5" r="2.60"/><circle cx="539.4" cy="208.4" r="2.60"/><circle cx="567.4" cy="171.1" r="2.60"/><circle cx="539.5" cy="226.7" r="2.60"/><circle cx="556.2" cy="204.2" r="2.60"/><circle cx="545.8" cy="205.8" r="2.60"/><circle cx="549.9" cy="206.2" r="2.60"/><circle cx="558.3" cy="186.0" r="2.60"/><circle cx="561.3" cy="175.9" r="2.60"/><circle cx="547.6" cy="218.0" r="2.60"/><circle cx="552.5" cy="183.1" r="2.60"/><circle cx="554.7" cy="172.3" r="2.60"/><circle cx="553.7" cy="216.5" r="2.60"/><circle cx="549.5" cy="196.6" r="2.60"/><circle cx="550.6" cy="179.9" r="2.60"/><circle cx="546.4" cy="206.4" r="2.60"/><circle cx="567.4" cy="161.5" r="2.60"/><circle cx="567.8" cy="161.0" r="2.60"/><circle cx="558.6" cy="197.8" r="2.60"/><circle cx="568.0" cy="164.5" r="2.60"/><circle cx="553.3" cy="221.0" r="2.60"/><circle cx="540.7" cy="223.9" r="2.60"/><circle cx="537.7" cy="213.1" r="2.60"/><circle cx="555.9" cy="210.7" r="2.60"/><circle cx="573.8" cy="151.7" r="2.60"/><circle cx="556.6" cy="197.4" r="2.60"/><circle cx="573.7" cy="154.8" r="2.60"/><circle cx="572.8" cy="155.8" r="2.60"/><circle cx="554.5" cy="193.8" r="2.60"/><circle cx="556.2" cy="195.5" r="2.60"/><circle cx="567.9" cy="147.1" r="2.60"/><circle cx="558.1" cy="188.5" r="2.60"/><circle cx="545.3" cy="225.9" r="2.60"/><circle cx="551.6" cy="166.2" r="2.60"/><circle cx="548.5" cy="202.2" r="2.60"/><circle cx="553.1" cy="227.7" r="2.60"/><circle cx="550.2" cy="214.7" r="2.60"/><circle cx="553.9" cy="143.8" r="2.60"/><circle cx="554.1" cy="216.8" r="2.60"/><circle cx="556.3" cy="190.2" r="2.60"/><circle cx="555.6" cy="210.7" r="2.60"/><circle cx="548.7" cy="221.2" r="2.60"/><circle cx="556.8" cy="178.2" r="2.60"/><circle cx="561.3" cy="148.0" r="2.60"/><circle cx="543.6" cy="188.8" r="2.60"/><circle cx="564.6" cy="226.5" r="2.60"/><circle cx="576.2" cy="227.6" r="2.60"/><circle cx="545.8" cy="211.0" r="2.60"/><circle cx="570.7" cy="166.1" r="2.60"/><circle cx="568.8" cy="151.8" r="2.60"/><circle cx="537.5" cy="225.9" r="2.60"/><circle cx="544.2" cy="214.4" r="2.60"/><circle cx="527.3" cy="200.1" r="2.60"/><circle cx="543.3" cy="189.5" r="2.60"/><circle cx="536.4" cy="199.7" r="2.60"/><circle cx="563.2" cy="175.7" r="2.60"/><circle cx="572.2" cy="154.2" r="2.60"/><circle cx="562.4" cy="163.4" r="2.60"/><circle cx="537.3" cy="194.3" r="2.60"/><circle cx="559.4" cy="159.9" r="2.60"/><circle cx="529.6" cy="184.0" r="2.60"/><circle cx="546.6" cy="202.5" r="2.60"/><circle cx="574.7" cy="157.0" r="2.60"/><circle cx="549.9" cy="194.0" r="2.60"/><circle cx="573.7" cy="157.1" r="2.60"/><circle cx="558.2" cy="172.5" r="2.60"/><circle cx="573.4" cy="148.6" r="2.60"/><circle cx="571.4" cy="159.3" r="2.60"/><circle cx="555.3" cy="193.8" r="2.60"/><circle cx="552.5" cy="186.5" r="2.60"/><circle cx="566.5" cy="166.5" r="2.60"/><circle cx="544.2" cy="215.6" r="2.60"/><circle cx="537.6" cy="213.9" r="2.60"/><circle cx="564.3" cy="176.5" r="2.60"/><circle cx="573.2" cy="158.9" r="2.60"/><circle cx="558.8" cy="188.6" r="2.60"/><circle cx="573.1" cy="163.1" r="2.60"/><circle cx="552.3" cy="212.1" r="2.60"/><circle cx="567.9" cy="152.0" r="2.60"/><circle cx="558.0" cy="196.2" r="2.60"/><circle cx="553.3" cy="220.8" r="2.60"/><circle cx="562.1" cy="176.9" r="2.60"/><circle cx="555.9" cy="173.9" r="2.60"/><circle cx="566.7" cy="168.3" r="2.60"/><circle cx="542.0" cy="223.7" r="2.60"/><circle cx="554.2" cy="209.2" r="2.60"/><circle cx="557.3" cy="204.8" r="2.60"/><circle cx="565.4" cy="226.3" r="2.60"/><circle cx="544.1" cy="210.9" r="2.60"/><circle cx="536.7" cy="203.2" r="2.60"/><circle cx="568.9" cy="165.5" r="2.60"/><circle cx="541.9" cy="196.6" r="2.60"/><circle cx="539.0" cy="213.1" r="2.60"/><circle cx="568.5" cy="157.6" r="2.60"/><circle cx="575.3" cy="227.0" r="2.60"/><circle cx="553.2" cy="190.8" r="2.60"/><circle cx="558.2" cy="182.1" r="2.60"/><circle cx="539.7" cy="150.9" r="2.60"/><circle cx="553.0" cy="216.1" r="2.60"/><circle cx="552.6" cy="149.3" r="2.60"/><circle cx="549.3" cy="197.9" r="2.60"/><circle cx="558.2" cy="185.7" r="2.60"/><circle cx="554.3" cy="201.0" r="2.60"/><circle cx="549.3" cy="218.9" r="2.60"/><circle cx="551.4" cy="214.8" r="2.60"/><circle cx="539.2" cy="207.7" r="2.60"/><circle cx="552.1" cy="169.6" r="2.60"/><circle cx="534.5" cy="213.7" r="2.60"/><circle cx="559.8" cy="144.6" r="2.60"/><circle cx="554.8" cy="173.8" r="2.60"/><circle cx="560.8" cy="177.5" r="2.60"/><circle cx="553.5" cy="183.7" r="2.60"/><circle cx="549.0" cy="220.5" r="2.60"/><circle cx="555.0" cy="186.9" r="2.60"/><circle cx="561.2" cy="178.1" r="2.60"/><circle cx="558.0" cy="180.7" r="2.60"/><circle cx="536.7" cy="227.5" r="2.60"/><circle cx="556.6" cy="186.2" r="2.60"/><circle cx="575.3" cy="150.2" r="2.60"/><circle cx="551.5" cy="223.8" r="2.60"/><circle cx="550.9" cy="222.8" r="2.60"/><circle cx="557.4" cy="188.3" r="2.60"/><circle cx="530.5" cy="213.8" r="2.60"/><circle cx="549.4" cy="222.0" r="2.60"/><circle cx="569.5" cy="166.1" r="2.60"/><circle cx="556.2" cy="170.3" r="2.60"/><circle cx="571.7" cy="157.7" r="2.60"/><circle cx="551.9" cy="216.6" r="2.60"/><circle cx="553.7" cy="204.5" r="2.60"/><circle cx="561.2" cy="161.5" r="2.60"/><circle cx="556.4" cy="227.6" r="2.60"/><circle cx="565.8" cy="169.1" r="2.60"/><circle cx="558.1" cy="198.9" r="2.60"/><circle cx="540.9" cy="167.9" r="2.60"/><circle cx="540.6" cy="164.7" r="2.60"/><circle cx="551.8" cy="177.7" r="2.60"/><circle cx="556.7" cy="201.9" r="2.60"/><circle cx="559.9" cy="167.3" r="2.60"/><circle cx="533.4" cy="189.1" r="2.60"/><circle cx="542.0" cy="220.8" r="2.60"/><circle cx="555.3" cy="203.6" r="2.60"/><circle cx="560.2" cy="178.2" r="2.60"/><circle cx="576.7" cy="157.4" r="2.60"/><circle cx="555.9" cy="211.3" r="2.60"/><circle cx="531.7" cy="212.9" r="2.60"/><circle cx="557.1" cy="203.3" r="2.60"/><circle cx="544.2" cy="211.2" r="2.60"/><circle cx="565.0" cy="160.4" r="2.60"/><circle cx="540.7" cy="221.9" r="2.60"/><circle cx="564.4" cy="159.4" r="2.60"/><circle cx="552.3" cy="224.2" r="2.60"/><circle cx="560.9" cy="168.5" r="2.60"/><circle cx="555.5" cy="178.2" r="2.60"/><circle cx="541.8" cy="187.0" r="2.60"/><circle cx="562.5" cy="173.8" r="2.60"/><circle cx="557.0" cy="202.3" r="2.60"/><circle cx="537.2" cy="217.1" r="2.60"/><circle cx="553.2" cy="172.4" r="2.60"/><circle cx="560.7" cy="188.2" r="2.60"/><circle cx="558.6" cy="148.9" r="2.60"/><circle cx="556.5" cy="171.9" r="2.60"/><circle cx="568.7" cy="161.7" r="2.60"/><circle cx="548.1" cy="210.3" r="2.60"/><circle cx="557.7" cy="183.3" r="2.60"/><circle cx="550.6" cy="226.0" r="2.60"/><circle cx="554.2" cy="165.8" r="2.60"/><circle cx="564.8" cy="174.5" r="2.60"/><circle cx="556.8" cy="206.5" r="2.60"/><circle cx="558.2" cy="199.8" r="2.60"/><circle cx="551.6" cy="188.0" r="2.60"/><circle cx="546.2" cy="135.3" r="2.60"/><circle cx="557.6" cy="179.3" r="2.60"/><circle cx="568.0" cy="161.2" r="2.60"/><circle cx="558.0" cy="168.1" r="2.60"/><circle cx="554.8" cy="219.2" r="2.60"/><circle cx="541.1" cy="226.1" r="2.60"/><circle cx="562.9" cy="172.5" r="2.60"/><circle cx="553.4" cy="210.6" r="2.60"/><circle cx="549.3" cy="193.4" r="2.60"/><circle cx="558.7" cy="181.5" r="2.60"/><circle cx="552.3" cy="212.1" r="2.60"/><circle cx="569.1" cy="170.1" r="2.60"/><circle cx="541.1" cy="162.3" r="2.60"/><circle cx="540.4" cy="200.7" r="2.60"/><circle cx="555.8" cy="202.1" r="2.60"/><circle cx="550.4" cy="210.9" r="2.60"/><circle cx="569.0" cy="226.3" r="2.60"/><circle cx="574.7" cy="150.7" r="2.60"/><circle cx="571.2" cy="145.5" r="2.60"/><circle cx="574.0" cy="226.5" r="2.60"/><circle cx="553.7" cy="168.1" r="2.60"/><circle cx="559.2" cy="181.3" r="2.60"/><circle cx="545.8" cy="205.8" r="2.60"/><circle cx="557.1" cy="147.4" r="2.60"/><circle cx="546.9" cy="193.3" r="2.60"/><circle cx="571.3" cy="227.1" r="2.60"/><circle cx="554.1" cy="211.2" r="2.60"/><circle cx="546.6" cy="183.0" r="2.60"/><circle cx="554.9" cy="207.6" r="2.60"/><circle cx="559.5" cy="152.8" r="2.60"/><circle cx="554.0" cy="197.8" r="2.60"/><circle cx="542.4" cy="194.1" r="2.60"/><circle cx="570.3" cy="164.3" r="2.60"/><circle cx="559.3" cy="186.1" r="2.60"/><circle cx="543.9" cy="159.5" r="2.60"/><circle cx="546.2" cy="212.0" r="2.60"/><circle cx="556.2" cy="196.5" r="2.60"/><circle cx="538.7" cy="209.9" r="2.60"/><circle cx="556.6" cy="196.3" r="2.60"/><circle cx="545.3" cy="189.1" r="2.60"/><circle cx="554.4" cy="173.6" r="2.60"/><circle cx="554.4" cy="205.4" r="2.60"/><circle cx="568.3" cy="168.1" r="2.60"/><circle cx="563.2" cy="179.3" r="2.60"/><circle cx="557.1" cy="195.2" r="2.60"/><circle cx="559.0" cy="190.2" r="2.60"/><circle cx="560.1" cy="171.8" r="2.60"/><circle cx="550.8" cy="188.3" r="2.60"/><circle cx="560.3" cy="169.5" r="2.60"/><circle cx="570.4" cy="165.7" r="2.60"/><circle cx="555.6" cy="177.4" r="2.60"/><circle cx="569.5" cy="155.6" r="2.60"/><circle cx="567.3" cy="167.0" r="2.60"/><circle cx="572.6" cy="157.0" r="2.60"/><circle cx="529.6" cy="195.1" r="2.60"/><circle cx="539.1" cy="225.1" r="2.60"/><circle cx="523.9" cy="173.8" r="2.60"/><circle cx="530.6" cy="195.5" r="2.60"/><circle cx="556.4" cy="189.3" r="2.60"/><circle cx="570.9" cy="152.8" r="2.60"/><circle cx="546.2" cy="216.3" r="2.60"/><circle cx="562.1" cy="173.9" r="2.60"/><circle cx="550.4" cy="201.7" r="2.60"/><circle cx="556.9" cy="208.9" r="2.60"/><circle cx="554.3" cy="218.7" r="2.60"/><circle cx="555.2" cy="212.8" r="2.60"/><circle cx="568.4" cy="170.2" r="2.60"/><circle cx="566.1" cy="171.1" r="2.60"/><circle cx="555.9" cy="185.4" r="2.60"/><circle cx="570.8" cy="159.3" r="2.60"/><circle cx="553.8" cy="212.1" r="2.60"/><circle cx="575.9" cy="157.3" r="2.60"/><circle cx="556.7" cy="192.9" r="2.60"/><circle cx="555.2" cy="208.9" r="2.60"/><circle cx="545.8" cy="182.0" r="2.60"/><circle cx="566.5" cy="137.2" r="2.60"/><circle cx="566.0" cy="166.6" r="2.60"/><circle cx="553.9" cy="181.9" r="2.60"/><circle cx="576.7" cy="159.3" r="2.60"/><circle cx="566.9" cy="227.5" r="2.60"/><circle cx="554.3" cy="189.6" r="2.60"/><circle cx="545.5" cy="191.7" r="2.60"/><circle cx="553.6" cy="214.7" r="2.60"/><circle cx="544.3" cy="178.0" r="2.60"/><circle cx="556.0" cy="192.0" r="2.60"/><circle cx="549.2" cy="180.2" r="2.60"/><circle cx="529.3" cy="174.1" r="2.60"/><circle cx="554.8" cy="220.7" r="2.60"/><circle cx="554.4" cy="151.9" r="2.60"/><circle cx="572.3" cy="164.4" r="2.60"/><circle cx="569.1" cy="165.4" r="2.60"/><circle cx="567.9" cy="226.5" r="2.60"/><circle cx="554.9" cy="183.7" r="2.60"/><circle cx="555.3" cy="219.5" r="2.60"/><circle cx="523.0" cy="204.4" r="2.60"/><circle cx="550.3" cy="223.5" r="2.60"/><circle cx="552.9" cy="220.7" r="2.60"/><circle cx="572.8" cy="158.8" r="2.60"/><circle cx="564.2" cy="145.1" r="2.60"/><circle cx="554.9" cy="226.6" r="2.60"/><circle cx="554.1" cy="207.6" r="2.60"/><circle cx="551.5" cy="189.2" r="2.60"/><circle cx="552.7" cy="224.8" r="2.60"/><circle cx="564.6" cy="163.6" r="2.60"/><circle cx="550.4" cy="213.2" r="2.60"/><circle cx="539.0" cy="226.8" r="2.60"/><circle cx="555.6" cy="208.1" r="2.60"/><circle cx="537.5" cy="220.5" r="2.60"/><circle cx="569.9" cy="164.9" r="2.60"/><circle cx="551.4" cy="225.1" r="2.60"/><circle cx="557.5" cy="193.4" r="2.60"/><circle cx="557.4" cy="150.2" r="2.60"/><circle cx="539.2" cy="218.3" r="2.60"/><circle cx="548.4" cy="176.9" r="2.60"/><circle cx="554.1" cy="175.6" r="2.60"/><circle cx="546.4" cy="197.4" r="2.60"/><circle cx="564.8" cy="226.8" r="2.60"/><circle cx="559.0" cy="178.6" r="2.60"/><circle cx="525.1" cy="209.1" r="2.60"/><circle cx="556.5" cy="187.2" r="2.60"/><circle cx="576.6" cy="141.8" r="2.60"/><circle cx="556.6" cy="165.2" r="2.60"/><circle cx="555.0" cy="221.2" r="2.60"/><circle cx="567.6" cy="160.5" r="2.60"/><circle cx="554.8" cy="175.1" r="2.60"/><circle cx="547.3" cy="193.8" r="2.60"/><circle cx="566.1" cy="159.8" r="2.60"/><circle cx="560.0" cy="159.2" r="2.60"/><circle cx="561.4" cy="185.8" r="2.60"/><circle cx="544.8" cy="227.1" r="2.60"/><circle cx="554.5" cy="224.9" r="2.60"/><circle cx="556.9" cy="197.6" r="2.60"/><circle cx="554.8" cy="221.8" r="2.60"/><circle cx="553.0" cy="158.7" r="2.60"/><circle cx="545.9" cy="220.4" r="2.60"/><circle cx="555.5" cy="176.1" r="2.60"/><circle cx="557.6" cy="200.6" r="2.60"/><circle cx="547.5" cy="221.2" r="2.60"/><circle cx="554.9" cy="188.0" r="2.60"/><circle cx="551.2" cy="194.1" r="2.60"/><circle cx="549.7" cy="191.8" r="2.60"/><circle cx="572.9" cy="227.2" r="2.60"/><circle cx="551.8" cy="175.7" r="2.60"/><circle cx="552.6" cy="187.1" r="2.60"/><circle cx="550.7" cy="223.6" r="2.60"/><circle cx="565.4" cy="174.5" r="2.60"/><circle cx="574.7" cy="149.3" r="2.60"/><circle cx="479.3" cy="84.4" r="2.60"/><circle cx="456.6" cy="105.0" r="2.60"/><circle cx="469.6" cy="108.1" r="2.60"/><circle cx="484.9" cy="108.5" r="2.60"/><circle cx="481.4" cy="112.0" r="2.60"/><circle cx="490.2" cy="110.8" r="2.60"/><circle cx="493.7" cy="105.6" r="2.60"/><circle cx="496.4" cy="118.1" r="2.60"/><circle cx="492.6" cy="123.1" r="2.60"/><circle cx="475.0" cy="130.9" r="2.60"/><circle cx="492.1" cy="130.4" r="2.60"/><circle cx="493.4" cy="132.8" r="2.60"/><circle cx="478.7" cy="143.2" r="2.60"/><circle cx="503.3" cy="137.1" r="2.60"/><circle cx="507.6" cy="137.8" r="2.60"/><circle cx="510.8" cy="138.4" r="2.60"/><circle cx="519.3" cy="137.1" r="2.60"/><circle cx="506.5" cy="143.9" r="2.60"/><circle cx="500.6" cy="146.4" r="2.60"/><circle cx="520.9" cy="143.7" r="2.60"/><circle cx="487.8" cy="149.0" r="2.60"/><circle cx="498.0" cy="149.0" r="2.60"/><circle cx="489.4" cy="149.5" r="2.60"/><circle cx="493.4" cy="153.3" r="2.60"/><circle cx="498.5" cy="150.1" r="2.60"/><circle cx="502.5" cy="155.1" r="2.60"/><circle cx="488.3" cy="158.4" r="2.60"/><circle cx="498.7" cy="161.6" r="2.60"/><circle cx="506.5" cy="145.0" r="2.60"/><circle cx="513.4" cy="154.6" r="2.60"/><circle cx="516.1" cy="153.0" r="2.60"/><circle cx="517.5" cy="158.4" r="2.60"/><circle cx="523.0" cy="161.0" r="2.60"/><circle cx="511.8" cy="168.7" r="2.60"/><circle cx="523.0" cy="177.0" r="2.60"/><circle cx="523.0" cy="182.4" r="2.60"/><circle cx="503.6" cy="191.2" r="2.60"/><circle cx="502.5" cy="195.0" r="2.60"/><circle cx="506.8" cy="198.4" r="2.60"/><circle cx="511.1" cy="190.1" r="2.60"/><circle cx="515.0" cy="188.8" r="2.60"/><circle cx="519.9" cy="187.7" r="2.60"/><circle cx="513.2" cy="200.6" r="2.60"/><circle cx="517.5" cy="214.2" r="2.60"/><circle cx="513.4" cy="224.0" r="2.60"/><circle cx="547.5" cy="80.1" r="2.60"/><circle cx="541.5" cy="116.8" r="2.60"/><circle cx="543.6" cy="121.5" r="2.60"/><circle cx="522.6" cy="128.2" r="2.60"/><circle cx="523.3" cy="132.5" r="2.60"/><circle cx="519.2" cy="137.1" r="2.60"/><circle cx="526.7" cy="138.2" r="2.60"/><circle cx="536.3" cy="133.6" r="2.60"/><circle cx="537.9" cy="139.4" r="2.60"/><circle cx="544.0" cy="140.7" r="2.60"/><circle cx="520.8" cy="143.5" r="2.60"/><circle cx="527.2" cy="145.3" r="2.60"/><circle cx="571.8" cy="125.6" r="2.60"/><circle cx="571.0" cy="128.2" r="2.60"/><circle cx="574.3" cy="130.9" r="2.60"/><circle cx="569.2" cy="133.0" r="2.60"/><circle cx="578.0" cy="135.2" r="2.60"/><circle cx="572.6" cy="140.0" r="2.60"/><circle cx="571.6" cy="146.9" r="2.60"/><circle cx="578.0" cy="146.9" r="2.60"/><circle cx="543.3" cy="149.0" r="2.60"/><circle cx="521.6" cy="143.0" r="2.60"/><circle cx="527.0" cy="145.1" r="2.60"/><circle cx="522.1" cy="146.2" r="2.60"/><circle cx="574.0" cy="130.7" r="2.60"/><circle cx="578.2" cy="136.0" r="2.60"/><circle cx="570.7" cy="138.7" r="2.60"/><circle cx="573.4" cy="139.8" r="2.60"/><circle cx="544.0" cy="148.8" r="2.60"/><circle cx="539.8" cy="152.0" r="2.60"/><circle cx="531.8" cy="153.1" r="2.60"/><circle cx="524.3" cy="159.5" r="2.60"/><circle cx="528.5" cy="157.4" r="2.60"/><circle cx="537.1" cy="156.9" r="2.60"/><circle cx="541.4" cy="158.5" r="2.60"/><circle cx="544.0" cy="162.7" r="2.60"/><circle cx="548.8" cy="158.5" r="2.60"/><circle cx="554.2" cy="161.1" r="2.60"/><circle cx="557.9" cy="162.7" r="2.60"/><circle cx="530.7" cy="164.9" r="2.60"/><circle cx="523.2" cy="164.9" r="2.60"/><circle cx="533.9" cy="168.1" r="2.60"/><circle cx="541.4" cy="168.6" r="2.60"/><circle cx="546.7" cy="167.0" r="2.60"/><circle cx="549.9" cy="170.2" r="2.60"/><circle cx="556.3" cy="165.9" r="2.60"/><circle cx="543.5" cy="172.4" r="2.60"/><circle cx="521.1" cy="175.6" r="2.60"/><circle cx="525.3" cy="178.8" r="2.60"/><circle cx="532.8" cy="175.6" r="2.60"/><circle cx="538.2" cy="179.3" r="2.60"/><circle cx="529.6" cy="182.0" r="2.60"/><circle cx="523.2" cy="184.1" r="2.60"/><circle cx="520.5" cy="188.4" r="2.60"/><circle cx="526.4" cy="189.4" r="2.60"/><circle cx="535.0" cy="186.2" r="2.60"/><circle cx="540.3" cy="188.4" r="2.60"/><circle cx="530.7" cy="194.8" r="2.60"/><circle cx="537.1" cy="193.7" r="2.60"/><circle cx="524.3" cy="196.9" r="2.60"/><circle cx="506.0" cy="200.0" r="2.60"/><circle cx="512.9" cy="201.5" r="2.60"/><circle cx="529.3" cy="204.1" r="2.60"/><circle cx="517.2" cy="214.0" r="2.60"/><circle cx="527.5" cy="214.0" r="2.60"/><circle cx="529.3" cy="214.6" r="2.60"/><circle cx="534.0" cy="214.6" r="2.60"/><circle cx="536.8" cy="218.7" r="2.60"/><circle cx="538.1" cy="224.3" r="2.60"/><circle cx="513.5" cy="224.3" r="2.60"/><circle cx="528.4" cy="222.1" r="2.60"/><circle cx="533.1" cy="226.2" r="2.60"/><circle cx="544.3" cy="216.8" r="2.60"/><circle cx="544.9" cy="224.3" r="2.60"/><circle cx="550.8" cy="223.4" r="2.60"/><circle cx="549.0" cy="217.8" r="2.60"/><circle cx="544.3" cy="203.7" r="2.60"/><circle cx="550.8" cy="209.3" r="2.60"/><circle cx="538.7" cy="197.0" r="2.60"/><circle cx="545.4" cy="204.3" r="2.60"/><circle cx="544.0" cy="209.0" r="2.60"/></g>
<g fill="#FF0000" fill-opacity="0.5"><circle cx="626.4" cy="176.8" r="2.60"/><circle cx="621.0" cy="195.0" r="2.60"/><circle cx="635.9" cy="213.6" r="2.60"/><circle cx="620.0" cy="200.2" r="2.60"/><circle cx="630.5" cy="188.8" r="2.60"/><circle cx="626.0" cy="222.0" r="2.60"/><circle cx="645.6" cy="159.7" r="2.60"/><circle cx="606.4" cy="162.9" r="2.60"/><circle cx="631.6" cy="182.4" r="2.60"/><circle cx="629.8" cy="183.5" r="2.60"/><circle cx="634.5" cy="216.8" r="2.60"/><circle cx="623.5" cy="166.7" r="2.60"/><circle cx="616.6" cy="180.8" r="2.60"/><circle cx="627.8" cy="179.4" r="2.60"/><circle cx="611.4" cy="168.6" r="2.60"/><circle cx="611.4" cy="162.7" r="2.60"/><circle cx="606.7" cy="158.2" r="2.60"/><circle cx="622.2" cy="185.0" r="2.60"/><circle cx="615.1" cy="227.2" r="2.60"/><circle cx="626.5" cy="202.6" r="2.60"/><circle cx="628.4" cy="196.7" r="2.60"/><circle cx="620.2" cy="216.6" r="2.60"/><circle cx="618.3" cy="200.5" r="2.60"/><circle cx="618.5" cy="165.5" r="2.60"/><circle cx="625.0" cy="227.2" r="2.60"/><circle cx="639.3" cy="196.8" r="2.60"/><circle cx="617.3" cy="197.5" r="2.60"/><circle cx="622.5" cy="208.4" r="2.60"/><circle cx="626.4" cy="220.1" r="2.60"/><circle cx="604.8" cy="155.6" r="2.60"/><circle cx="624.1" cy="183.6" r="2.60"/><circle cx="617.8" cy="204.2" r="2.60"/><circle cx="630.4" cy="201.3" r="2.60"/><circle cx="602.6" cy="171.1" r="2.60"/><circle cx="627.1" cy="225.5" r="2.60"/><circle cx="623.5" cy="226.6" r="2.60"/><circle cx="608.0" cy="161.0" r="2.60"/><circle cx="619.5" cy="210.1" r="2.60"/><circle cx="606.6" cy="227.6" r="2.60"/><circle cx="657.2" cy="208.5" r="2.60"/><circle cx="617.8" cy="202.8" r="2.60"/><circle cx="620.1" cy="211.1" r="2.60"/><circle cx="617.7" cy="187.8" r="2.60"/><circle cx="615.3" cy="166.9" r="2.60"/><circle cx="608.6" cy="163.9" r="2.60"/><circle cx="629.5" cy="206.2" r="2.60"/><circle cx="624.2" cy="156.6" r="2.60"/><circle cx="615.3" cy="138.2" r="2.60"/><circle cx="621.7" cy="149.3" r="2.60"/><circle cx="628.2" cy="198.8" r="2.60"/><circle cx="622.5" cy="189.5" r="2.60"/><circle cx="620.5" cy="190.9" r="2.60"/><circle cx="622.8" cy="223.5" r="2.60"/><circle cx="619.0" cy="210.4" r="2.60"/><circle cx="620.6" cy="189.8" r="2.60"/><circle cx="624.6" cy="177.2" r="2.60"/><circle cx="615.1" cy="168.7" r="2.60"/><circle cx="608.7" cy="163.5" r="2.60"/><circle cx="605.4" cy="157.5" r="2.60"/><circle cx="612.0" cy="166.1" r="2.60"/><circle cx="629.9" cy="222.7" r="2.60"/><circle cx="620.1" cy="206.0" r="2.60"/><circle cx="611.8" cy="227.4" r="2.60"/><circle cx="630.8" cy="227.5" r="2.60"/><circle cx="602.7" cy="221.7" r="2.60"/><circle cx="618.1" cy="166.3" r="2.60"/><circle cx="606.0" cy="226.6" r="2.60"/><circle cx="611.4" cy="163.0" r="2.60"/><circle cx="617.6" cy="227.7" r="2.60"/><circle cx="604.1" cy="144.3" r="2.60"/><circle cx="622.7" cy="175.9" r="2.60"/><circle cx="624.8" cy="223.9" r="2.60"/><circle cx="627.6" cy="175.8" r="2.60"/><circle cx="604.9" cy="160.4" r="2.60"/><circle cx="610.5" cy="156.7" r="2.60"/><circle cx="622.6" cy="187.1" r="2.60"/><circle cx="632.4" cy="226.7" r="2.60"/><circle cx="645.6" cy="182.3" r="2.60"/><circle cx="602.9" cy="165.0" r="2.60"/><circle cx="602.7" cy="215.5" r="2.60"/><circle cx="624.3" cy="220.4" r="2.60"/><circle cx="617.0" cy="193.0" r="2.60"/><circle cx="621.4" cy="203.8" r="2.60"/><circle cx="614.4" cy="171.8" r="2.60"/><circle cx="617.1" cy="172.7" r="2.60"/><circle cx="618.5" cy="207.3" r="2.60"/><circle cx="617.0" cy="180.2" r="2.60"/><circle cx="608.7" cy="145.8" r="2.60"/><circle cx="618.3" cy="169.6" r="2.60"/><circle cx="604.9" cy="148.2" r="2.60"/><circle cx="629.5" cy="214.2" r="2.60"/><circle cx="621.0" cy="219.6" r="2.60"/><circle cx="618.1" cy="192.9" r="2.60"/><circle cx="621.5" cy="209.1" r="2.60"/><circle cx="625.5" cy="200.9" r="2.60"/><circle cx="619.2" cy="205.0" r="2.60"/><circle cx="617.7" cy="200.3" r="2.60"/><circle cx="620.6" cy="186.3" r="2.60"/><circle cx="605.8" cy="161.7" r="2.60"/><circle cx="624.1" cy="169.0" r="2.60"/><circle cx="611.6" cy="161.1" r="2.60"/><circle cx="618.7" cy="183.8" r="2.60"/><circle cx="620.5" cy="177.4" r="2.60"/><circle cx="622.0" cy="180.4" r="2.60"/><circle cx="613.4" cy="167.2" r="2.60"/><circle cx="615.4" cy="170.7" r="2.60"/><circle cx="604.4" cy="151.8" r="2.60"/><circle cx="618.2" cy="162.9" r="2.60"/><circle cx="619.8" cy="198.5" r="2.60"/><circle cx="609.6" cy="166.3" r="2.60"/><circle cx="628.8" cy="200.3" r="2.60"/><circle cx="615.7" cy="164.7" r="2.60"/><circle cx="629.4" cy="198.2" r="2.60"/><circle cx="620.7" cy="222.4" r="2.60"/><circle cx="615.7" cy="173.0" r="2.60"/><circle cx="619.7" cy="213.2" r="2.60"/><circle cx="621.3" cy="205.5" r="2.60"/><circle cx="616.6" cy="173.7" r="2.60"/><circle cx="616.8" cy="179.8" r="2.60"/><circle cx="621.2" cy="203.5" r="2.60"/><circle cx="623.1" cy="213.9" r="2.60"/><circle cx="622.3" cy="204.1" r="2.60"/><circle cx="623.1" cy="214.2" r="2.60"/><circle cx="621.8" cy="174.1" r="2.60"/><circle cx="621.1" cy="195.0" r="2.60"/><circle cx="602.8" cy="184.4" r="2.60"/><circle cx="619.5" cy="212.6" r="2.60"/><circle cx="630.7" cy="207.4" r="2.60"/><circle cx="631.6" cy="192.9" r="2.60"/><circle cx="632.1" cy="223.5" r="2.60"/><circle cx="604.7" cy="162.1" r="2.60"/><circle cx="630.7" cy="187.7" r="2.60"/><circle cx="604.4" cy="157.1" r="2.60"/><circle cx="627.1" cy="175.2" r="2.60"/><circle cx="624.8" cy="204.8" r="2.60"/><circle cx="605.2" cy="161.7" r="2.60"/><circle cx="618.1" cy="177.7" r="2.60"/><circle cx="617.3" cy="178.8" r="2.60"/><circle cx="622.9" cy="174.2" r="2.60"/><circle cx="624.7" cy="217.8" r="2.60"/><circle cx="622.2" cy="199.5" r="2.60"/><circle cx="622.0" cy="202.5" r="2.60"/><circle cx="620.5" cy="178.6" r="2.60"/><circle cx="621.2" cy="171.8" r="2.60"/><circle cx="623.4" cy="224.4" r="2.60"/><circle cx="609.9" cy="164.0" r="2.60"/><circle cx="609.4" cy="164.7" r="2.60"/><circle cx="621.3" cy="214.2" r="2.60"/><circle cx="635.9" cy="223.3" r="2.60"/><circle cx="620.0" cy="195.9" r="2.60"/><circle cx="614.2" cy="163.8" r="2.60"/><circle cx="627.1" cy="226.2" r="2.60"/><circle cx="619.0" cy="185.6" r="2.60"/><circle cx="611.2" cy="163.7" r="2.60"/><circle cx="623.4" cy="180.3" r="2.60"/><circle cx="617.4" cy="182.1" r="2.60"/><circle cx="630.2" cy="216.1" r="2.60"/><circle cx="622.0" cy="223.0" r="2.60"/><circle cx="630.1" cy="170.1" r="2.60"/><circle cx="620.4" cy="219.2" r="2.60"/><circle cx="618.9" cy="214.3" r="2.60"/><circle cx="619.7" cy="204.2" r="2.60"/><circle cx="608.9" cy="151.9" r="2.60"/><circle cx="631.8" cy="180.6" r="2.60"/><circle cx="624.1" cy="219.8" r="2.60"/><circle cx="617.7" cy="183.8" r="2.60"/><circle cx="614.9" cy="154.5" r="2.60"/><circle cx="618.8" cy="195.3" r="2.60"/><circle cx="620.7" cy="183.4" r="2.60"/><circle cx="621.5" cy="196.8" r="2.60"/><circle cx="622.2" cy="202.0" r="2.60"/><circle cx="621.9" cy="210.5" r="2.60"/><circle cx="610.1" cy="162.8" r="2.60"/><circle cx="614.0" cy="167.3" r="2.60"/><circle cx="614.0" cy="167.2" r="2.60"/><circle cx="604.7" cy="156.6" r="2.60"/><circle cx="603.5" cy="156.0" r="2.60"/><circle cx="620.7" cy="198.6" r="2.60"/><circle cx="620.5" cy="221.3" r="2.60"/><circle cx="607.9" cy="162.3" r="2.60"/><circle cx="618.3" cy="187.5" r="2.60"/><circle cx="621.8" cy="185.3" r="2.60"/><circle cx="632.9" cy="174.5" r="2.60"/><circle cx="630.0" cy="208.7" r="2.60"/><circle cx="641.3" cy="163.5" r="2.60"/><circle cx="640.1" cy="203.5" r="2.60"/><circle cx="607.8" cy="161.2" r="2.60"/><circle cx="620.6" cy="177.0" r="2.60"/><circle cx="624.0" cy="225.8" r="2.60"/><circle cx="618.4" cy="176.9" r="2.60"/><circle cx="614.3" cy="139.2" r="2.60"/><circle cx="626.1" cy="198.8" r="2.60"/><circle cx="631.1" cy="225.2" r="2.60"/><circle cx="631.6" cy="225.6" r="2.60"/><circle cx="632.9" cy="151.5" r="2.60"/><circle cx="602.8" cy="137.7" r="2.60"/><circle cx="620.1" cy="192.0" r="2.60"/><circle cx="622.7" cy="209.2" r="2.60"/><circle cx="619.7" cy="209.1" r="2.60"/><circle cx="617.6" cy="163.0" r="2.60"/><circle cx="608.9" cy="161.6" r="2.60"/><circle cx="619.8" cy="182.1" r="2.60"/><circle cx="621.0" cy="199.6" r="2.60"/><circle cx="602.8" cy="182.2" r="2.60"/><circle cx="618.1" cy="190.2" r="2.60"/><circle cx="602.8" cy="182.5" r="2.60"/><circle cx="624.0" cy="225.2" r="2.60"/><circle cx="628.6" cy="202.7" r="2.60"/><circle cx="636.2" cy="151.8" r="2.60"/><circle cx="628.8" cy="174.4" r="2.60"/><circle cx="643.2" cy="216.8" r="2.60"/><circle cx="623.0" cy="199.3" r="2.60"/><circle cx="620.3" cy="181.3" r="2.60"/><circle cx="623.4" cy="197.7" r="2.60"/><circle cx="633.8" cy="177.4" r="2.60"/><circle cx="630.2" cy="178.7" r="2.60"/><circle cx="617.4" cy="181.9" r="2.60"/><circle cx="629.6" cy="225.5" r="2.60"/><circle cx="629.1" cy="159.1" r="2.60"/><circle cx="602.9" cy="218.6" r="2.60"/><circle cx="614.6" cy="137.7" r="2.60"/><circle cx="623.8" cy="223.2" r="2.60"/><circle cx="619.5" cy="194.6" r="2.60"/><circle cx="621.7" cy="183.1" r="2.60"/><circle cx="610.8" cy="167.9" r="2.60"/><circle cx="620.7" cy="214.0" r="2.60"/><circle cx="626.4" cy="217.0" r="2.60"/><circle cx="629.1" cy="213.9" r="2.60"/><circle cx="623.5" cy="224.5" r="2.60"/><circle cx="611.5" cy="161.8" r="2.60"/><circle cx="615.0" cy="168.9" r="2.60"/><circle cx="623.8" cy="197.5" r="2.60"/><circle cx="621.6" cy="171.8" r="2.60"/><circle cx="621.8" cy="224.1" r="2.60"/><circle cx="620.9" cy="219.7" r="2.60"/><circle cx="623.0" cy="188.1" r="2.60"/><circle cx="617.8" cy="163.2" r="2.60"/><circle cx="612.3" cy="161.0" r="2.60"/><circle cx="624.8" cy="214.1" r="2.60"/><circle cx="628.4" cy="223.5" r="2.60"/><circle cx="610.1" cy="162.3" r="2.60"/><circle cx="626.5" cy="227.5" r="2.60"/><circle cx="623.2" cy="174.2" r="2.60"/><circle cx="619.0" cy="177.8" r="2.60"/><circle cx="618.3" cy="182.5" r="2.60"/><circle cx="620.0" cy="181.8" r="2.60"/><circle cx="623.6" cy="173.4" r="2.60"/><circle cx="612.8" cy="165.7" r="2.60"/><circle cx="622.1" cy="167.7" r="2.60"/><circle cx="634.7" cy="219.3" r="2.60"/><circle cx="631.4" cy="225.2" r="2.60"/><circle cx="639.8" cy="226.9" r="2.60"/><circle cx="619.4" cy="211.2" r="2.60"/><circle cx="602.8" cy="164.8" r="2.60"/><circle cx="620.4" cy="200.5" r="2.60"/><circle cx="628.3" cy="226.8" r="2.60"/><circle cx="617.1" cy="164.3" r="2.60"/><circle cx="619.7" cy="191.7" r="2.60"/><circle cx="602.9" cy="226.5" r="2.60"/><circle cx="611.1" cy="226.8" r="2.60"/><circle cx="635.8" cy="165.0" r="2.60"/><circle cx="623.7" cy="225.9" r="2.60"/><circle cx="618.3" cy="180.5" r="2.60"/><circle cx="611.3" cy="226.9" r="2.60"/><circle cx="625.2" cy="224.6" r="2.60"/><circle cx="604.9" cy="160.4" r="2.60"/><circle cx="622.7" cy="201.0" r="2.60"/><circle cx="632.3" cy="227.1" r="2.60"/><circle cx="630.1" cy="199.8" r="2.60"/><circle cx="619.6" cy="206.8" r="2.60"/><circle cx="621.4" cy="184.4" r="2.60"/><circle cx="648.6" cy="225.7" r="2.60"/><circle cx="640.8" cy="195.4" r="2.60"/><circle cx="621.6" cy="198.0" r="2.60"/><circle cx="634.8" cy="220.8" r="2.60"/><circle cx="610.1" cy="166.6" r="2.60"/><circle cx="632.9" cy="164.5" r="2.60"/><circle cx="624.8" cy="218.7" r="2.60"/><circle cx="621.0" cy="223.5" r="2.60"/><circle cx="609.3" cy="164.7" r="2.60"/><circle cx="602.7" cy="156.6" r="2.60"/><circle cx="625.4" cy="192.2" r="2.60"/><circle cx="628.6" cy="221.2" r="2.60"/><circle cx="621.5" cy="225.4" r="2.60"/><circle cx="610.3" cy="163.6" r="2.60"/><circle cx="617.2" cy="167.7" r="2.60"/><circle cx="624.5" cy="202.7" r="2.60"/><circle cx="617.8" cy="189.5" r="2.60"/><circle cx="625.4" cy="177.7" r="2.60"/><circle cx="602.8" cy="196.3" r="2.60"/><circle cx="607.1" cy="160.5" r="2.60"/><circle cx="629.6" cy="164.8" r="2.60"/><circle cx="602.8" cy="174.4" r="2.60"/><circle cx="613.0" cy="162.4" r="2.60"/><circle cx="619.2" cy="207.2" r="2.60"/><circle cx="630.7" cy="199.7" r="2.60"/><circle cx="631.8" cy="220.0" r="2.60"/><circle cx="603.4" cy="145.8" r="2.60"/><circle cx="618.2" cy="167.1" r="2.60"/><circle cx="619.2" cy="202.5" r="2.60"/><circle cx="612.5" cy="165.4" r="2.60"/><circle cx="621.5" cy="205.8" r="2.60"/><circle cx="625.2" cy="208.6" r="2.60"/><circle cx="618.7" cy="178.3" r="2.60"/><circle cx="636.3" cy="198.5" r="2.60"/><circle cx="627.2" cy="207.6" r="2.60"/><circle cx="619.6" cy="185.2" r="2.60"/><circle cx="620.7" cy="222.0" r="2.60"/><circle cx="613.3" cy="167.5" r="2.60"/><circle cx="623.7" cy="169.0" r="2.60"/><circle cx="636.3" cy="119.2" r="2.60"/><circle cx="639.5" cy="121.9" r="2.60"/><circle cx="620.6" cy="125.4" r="2.60"/><circle cx="617.9" cy="133.7" r="2.60"/><circle cx="622.4" cy="138.7" r="2.60"/><circle cx="645.4" cy="145.7" r="2.60"/><circle cx="612.0" cy="146.2" r="2.60"/><circle cx="605.3" cy="148.6" r="2.60"/><circle cx="608.5" cy="151.3" r="2.60"/><circle cx="620.3" cy="146.2" r="2.60"/><circle cx="623.5" cy="148.6" r="2.60"/><circle cx="615.8" cy="152.4" r="2.60"/><circle cx="612.3" cy="155.0" r="2.60"/><circle cx="621.4" cy="155.0" r="2.60"/><circle cx="626.7" cy="151.8" r="2.60"/><circle cx="632.0" cy="152.0" r="2.60"/><circle cx="636.9" cy="150.2" r="2.60"/><circle cx="634.7" cy="154.5" r="2.60"/><circle cx="640.6" cy="155.2" r="2.60"/><circle cx="654.2" cy="153.7" r="2.60"/><circle cx="620.3" cy="158.8" r="2.60"/><circle cx="626.2" cy="158.5" r="2.60"/><circle cx="626.5" cy="164.6" r="2.60"/><circle cx="642.7" cy="173.5" r="2.60"/><circle cx="611.5" cy="145.6" r="2.60"/><circle cx="619.9" cy="146.4" r="2.60"/><circle cx="625.8" cy="149.0" r="2.60"/><circle cx="631.8" cy="150.9" r="2.60"/><circle cx="606.0" cy="149.0" r="2.60"/><circle cx="698.0" cy="172.4" r="2.60"/><circle cx="639.8" cy="185.7" r="2.60"/><circle cx="643.3" cy="185.7" r="2.60"/><circle cx="636.8" cy="194.7" r="2.60"/><circle cx="641.7" cy="201.6" r="2.60"/><circle cx="658.3" cy="203.6" r="2.60"/><circle cx="650.7" cy="206.6" r="2.60"/><circle cx="644.7" cy="207.6" r="2.60"/><circle cx="640.8" cy="211.6" r="2.60"/><circle cx="631.8" cy="215.5" r="2.60"/><circle cx="673.2" cy="215.5" r="2.60"/><circle cx="679.1" cy="220.5" r="2.60"/><circle cx="660.6" cy="222.1" r="2.60"/><circle cx="663.6" cy="225.1" r="2.60"/><circle cx="651.3" cy="223.9" r="2.60"/><circle cx="647.7" cy="224.5" r="2.60"/><circle cx="635.8" cy="221.5" r="2.60"/><circle cx="639.8" cy="225.5" r="2.60"/><circle cx="632.8" cy="227.5" r="2.60"/></g>
<circle cx="515" cy="127.7" r="2.6" fill="#0000FF" fill-opacity="0.5"/>
<g fill="none" stroke="#222" stroke-width="0.8"><circle cx="515.0" cy="127.7" r="1.9"/><circle cx="576.7" cy="173.8" r="1.9"/><circle cx="576.7" cy="187.7" r="1.9"/><circle cx="603.1" cy="186.7" r="1.9"/><circle cx="617.4" cy="178.5" r="1.9"/><circle cx="605.6" cy="209.8" r="1.9"/><circle cx="603.4" cy="212.7" r="1.9"/><circle cx="604.9" cy="216.4" r="1.9"/><circle cx="576.5" cy="205.0" r="1.9"/><circle cx="577.0" cy="222.0" r="1.9"/></g>
<path d="M578.18 71.60V260.20M601.12 71.60V260.20" stroke="#333" stroke-width="1.2" stroke-dasharray="3.7 2.35 1.1 2.35" stroke-dashoffset="8.2" fill="none"/>
<path d="M444.30 229.25H710.30" stroke="#333" stroke-width="1.2" stroke-dasharray="3.7 2.35 1.1 2.35" stroke-dashoffset="6.1" fill="none"/>
<rect x="511.50" y="115.70" width="27.20" height="9.60" rx="0.9" fill="#fff" stroke="#4a4a4a" stroke-width="0.9"/>
<text x="525.10" y="123.10" font-size="7.2" stroke="#222" stroke-width="0.22" text-anchor="middle" textLength="23.80" lengthAdjust="spacingAndGlyphs" fill="#222">SLC9A3</text>
<rect x="578.90" y="161.70" width="15.30" height="9.40" rx="0.9" fill="#fff" stroke="#4a4a4a" stroke-width="0.9"/>
<text x="586.55" y="169.00" font-size="7.2" stroke="#222" stroke-width="0.22" text-anchor="middle" textLength="11.90" lengthAdjust="spacingAndGlyphs" fill="#222">IL18</text>
<rect x="552.30" y="176.40" width="21.50" height="8.40" rx="0.9" fill="#fff" stroke="#4a4a4a" stroke-width="0.9"/>
<text x="563.05" y="183.20" font-size="7.2" stroke="#222" stroke-width="0.22" text-anchor="middle" textLength="18.10" lengthAdjust="spacingAndGlyphs" fill="#222">CTSD</text>
<rect x="578.90" y="188.20" width="23.30" height="8.80" rx="0.9" fill="#fff" stroke="#4a4a4a" stroke-width="0.9"/>
<text x="590.55" y="195.20" font-size="7.2" stroke="#222" stroke-width="0.22" text-anchor="middle" textLength="19.90" lengthAdjust="spacingAndGlyphs" fill="#222">FKBP2</text>
<rect x="578.90" y="201.40" width="24.50" height="8.80" rx="0.9" fill="#fff" stroke="#4a4a4a" stroke-width="0.9"/>
<text x="591.15" y="208.40" font-size="7.2" stroke="#222" stroke-width="0.22" text-anchor="middle" textLength="21.10" lengthAdjust="spacingAndGlyphs" fill="#222">HDAC4</text>
<rect x="550.10" y="206.80" width="23.70" height="8.80" rx="0.9" fill="#fff" stroke="#4a4a4a" stroke-width="0.9"/>
<text x="561.95" y="213.80" font-size="7.2" stroke="#222" stroke-width="0.22" text-anchor="middle" textLength="20.30" lengthAdjust="spacingAndGlyphs" fill="#222">DAPK3</text>
<rect x="556.40" y="220.00" width="23.60" height="8.80" rx="0.9" fill="#fff" stroke="#4a4a4a" stroke-width="0.9"/>
<text x="568.20" y="227.00" font-size="7.2" stroke="#222" stroke-width="0.22" text-anchor="middle" textLength="20.20" lengthAdjust="spacingAndGlyphs" fill="#222">CCL16</text>
<rect x="618.10" y="166.70" width="19.80" height="8.50" rx="0.9" fill="#fff" stroke="#4a4a4a" stroke-width="0.9"/>
<text x="628.00" y="173.55" font-size="7.2" stroke="#222" stroke-width="0.22" text-anchor="middle" textLength="16.40" lengthAdjust="spacingAndGlyphs" fill="#222">TLR9</text>
<rect x="608.60" y="198.70" width="23.50" height="8.60" rx="0.9" fill="#fff" stroke="#4a4a4a" stroke-width="0.9"/>
<text x="620.35" y="205.60" font-size="7.2" stroke="#222" stroke-width="0.22" text-anchor="middle" textLength="20.10" lengthAdjust="spacingAndGlyphs" fill="#222">NFKB1</text>
<rect x="604.40" y="220.00" width="20.80" height="8.50" rx="0.9" fill="#fff" stroke="#4a4a4a" stroke-width="0.9"/>
<text x="614.80" y="226.85" font-size="7.2" stroke="#222" stroke-width="0.22" text-anchor="middle" textLength="17.40" lengthAdjust="spacingAndGlyphs" fill="#222">MUC2</text>
<rect x="444.30" y="71.60" width="266.00" height="188.60" fill="none" stroke="#8a8a8a" stroke-width="1"/>
<text x="441.30" y="253.40" font-size="5.2" text-anchor="end" fill="#666">0.0</text>
<text x="441.30" y="210.65" font-size="5.2" text-anchor="end" fill="#666">2.5</text>
<text x="441.30" y="167.90" font-size="5.2" text-anchor="end" fill="#666">5.0</text>
<text x="441.30" y="125.15" font-size="5.2" text-anchor="end" fill="#666">7.5</text>
<text x="441.30" y="82.40" font-size="5.2" text-anchor="end" fill="#666">10.0</text>
<text x="476.60" y="267.60" font-size="5.2" text-anchor="middle" fill="#666">-10</text>
<text x="533.20" y="267.60" font-size="5.2" text-anchor="middle" fill="#666">-5</text>
<text x="589.80" y="267.60" font-size="5.2" text-anchor="middle" fill="#666">0</text>
<text x="646.40" y="267.60" font-size="5.2" text-anchor="middle" fill="#666">5</text>
<text x="703.00" y="267.60" font-size="5.2" text-anchor="middle" fill="#666">10</text>
<path d="M442.80 251.50H444.30M442.80 208.75H444.30M442.80 166.00H444.30M442.80 123.25H444.30M442.80 80.50H444.30M476.60 260.20V261.70M533.20 260.20V261.70M589.80 260.20V261.70M646.40 260.20V261.70M703.00 260.20V261.70" stroke="#777" stroke-width="0.6"/>
<text x="577.3" y="274.8" font-size="6.2" text-anchor="middle" fill="#333">logFC</text>
<text x="0" y="0" font-size="6.2" text-anchor="middle" fill="#333" transform="translate(428.9 166) rotate(-90)">-log10(Pvalue)</text>
<text x="720.3" y="152.2" font-size="6.2" fill="#333">change</text>
<circle cx="724.9" cy="160.50" r="2.4" fill="#0000FF" fill-opacity="0.5"/>
<text x="733.2" y="162.40" font-size="5.4" fill="#333">down</text>
<circle cx="724.9" cy="170.80" r="2.4" fill="#BEBEBE" fill-opacity="0.5"/>
<text x="733.2" y="172.70" font-size="5.4" fill="#333">stable</text>
<circle cx="724.9" cy="180.80" r="2.4" fill="#FF0000" fill-opacity="0.5"/>
<text x="733.2" y="182.70" font-size="5.4" fill="#333">up</text>
<defs><clipPath id="clL"><ellipse cx="316.00" cy="426.20" rx="102.75" ry="95.85"/></clipPath></defs>
<ellipse cx="316.00" cy="426.20" rx="102.75" ry="95.85" fill="#8080FF"/>
<ellipse cx="449.65" cy="426.20" rx="102.35" ry="95.85" fill="#FFFF80"/>
<ellipse cx="449.65" cy="426.20" rx="102.35" ry="95.85" fill="#BFBF80" clip-path="url(#clL)"/>
<ellipse cx="316.00" cy="426.20" rx="102.75" ry="95.85" fill="none" stroke="#111" stroke-width="1.1"/>
<ellipse cx="449.65" cy="426.20" rx="102.35" ry="95.85" fill="none" stroke="#111" stroke-width="1.1"/>
<text x="294.50" y="426.0" font-family="Liberation Serif, serif" font-size="13" stroke="#111" stroke-width="0.25" text-anchor="middle" fill="#111">1590</text>
<text x="294.50" y="433.9" font-family="Liberation Serif, serif" font-size="8" letter-spacing="0.3" stroke="#111" stroke-width="0.3" text-anchor="middle" fill="#111" xml:space="preserve">(87. 7%)</text>
<text x="382.60" y="426.0" font-family="Liberation Serif, serif" font-size="13" stroke="#111" stroke-width="0.25" text-anchor="middle" fill="#111">16</text>
<text x="382.60" y="433.9" font-family="Liberation Serif, serif" font-size="8" letter-spacing="0.3" stroke="#111" stroke-width="0.3" text-anchor="middle" fill="#111" xml:space="preserve">(0. 9%)</text>
<text x="472.20" y="426.0" font-family="Liberation Serif, serif" font-size="13" stroke="#111" stroke-width="0.25" text-anchor="middle" fill="#111">206</text>
<text x="472.20" y="433.9" font-family="Liberation Serif, serif" font-size="8" letter-spacing="0.3" stroke="#111" stroke-width="0.3" text-anchor="middle" fill="#111" xml:space="preserve">(11. 4%)</text>
<text x="327.9" y="546" font-size="13.4" font-weight="bold" text-anchor="middle" fill="#111">GSE138125</text>
<text x="441" y="546" font-size="13.4" font-weight="bold" text-anchor="middle" fill="#111">Human microbiota</text>
<path d="M114.40 618.20V800.40M154.00 618.20V800.40M193.60 618.20V800.40M233.20 618.20V800.40M272.80 618.20V800.40M312.40 618.20V800.40M352.00 618.20V800.40M90.60 776.67H375.80M90.60 752.84H375.80M90.60 729.01H375.80M90.60 705.18H375.80M90.60 681.35H375.80M90.60 657.52H375.80M90.60 633.69H375.80M406.80 618.20V800.40M437.80 618.20V800.40M468.80 618.20V800.40M499.80 618.20V800.40M530.80 618.20V800.40M561.80 618.20V800.40M592.80 618.20V800.40M623.80 618.20V800.40M654.80 618.20V800.40M388.20 779.55H673.50M388.20 760.10H673.50M388.20 740.65H673.50M388.20 721.20H673.50M388.20 701.75H673.50M388.20 682.30H673.50M388.20 662.85H673.50M388.20 643.40H673.50M388.20 623.95H673.50" stroke="#ebebeb" stroke-width="0.8" fill="none"/>
<rect x="100.10" y="626.50" width="14.30" height="9.00" fill="#58A8E0" stroke="#444" stroke-width="0.6"/>
<path d="M100.10 627.20H114.40" stroke="#333" stroke-width="1.1"/>
<rect x="114.80" y="791.30" width="13.90" height="0.80" fill="#F9A030" stroke="#444" stroke-width="0.6"/>
<path d="M114.80 791.60H128.70" stroke="#333" stroke-width="1.1"/>
<path d="M146.45 737.60V740.10" stroke="#7a7a7a" stroke-width="0.8"/>
<rect x="139.30" y="740.10" width="14.30" height="9.60" fill="#58A8E0" stroke="#444" stroke-width="0.6"/>
<path d="M139.30 744.50H153.60" stroke="#333" stroke-width="1.1"/>
<path d="M161.65 750.10V763.40" stroke="#7a7a7a" stroke-width="0.8"/>
<rect x="154.80" y="763.40" width="13.70" height="27.50" fill="#F9A030" stroke="#444" stroke-width="0.6"/>
<path d="M154.80 779.20H168.50" stroke="#333" stroke-width="1.1"/>
<path d="M186.10 732.90V742.90" stroke="#7a7a7a" stroke-width="0.8"/>
<path d="M186.10 755.40V758.00" stroke="#7a7a7a" stroke-width="0.8"/>
<rect x="179.20" y="742.90" width="13.80" height="12.50" fill="#58A8E0" stroke="#444" stroke-width="0.6"/>
<path d="M179.20 749.70H193.00" stroke="#333" stroke-width="1.1"/>
<path d="M201.30 749.70V772.50" stroke="#7a7a7a" stroke-width="0.8"/>
<rect x="194.60" y="772.50" width="13.40" height="18.40" fill="#F9A030" stroke="#444" stroke-width="0.6"/>
<path d="M194.60 785.00H208.00" stroke="#333" stroke-width="1.1"/>
<path d="M225.75 738.80V742.00" stroke="#7a7a7a" stroke-width="0.8"/>
<rect x="218.90" y="736.00" width="13.70" height="2.80" fill="#58A8E0" stroke="#444" stroke-width="0.6"/>
<path d="M218.90 736.90H232.60" stroke="#333" stroke-width="1.1"/>
<path d="M241.00 760.00V764.00" stroke="#7a7a7a" stroke-width="0.8"/>
<rect x="234.20" y="764.00" width="13.60" height="5.80" fill="#F9A030" stroke="#444" stroke-width="0.6"/>
<path d="M234.20 766.90H247.80" stroke="#333" stroke-width="1.1"/>
<path d="M265.25 720.30V722.00" stroke="#7a7a7a" stroke-width="0.8"/>
<path d="M265.25 728.60V734.70" stroke="#7a7a7a" stroke-width="0.8"/>
<rect x="258.30" y="722.00" width="13.90" height="6.60" fill="#58A8E0" stroke="#444" stroke-width="0.6"/>
<path d="M258.30 723.80H272.20" stroke="#333" stroke-width="1.1"/>
<path d="M280.35 748.30V750.90" stroke="#7a7a7a" stroke-width="0.8"/>
<rect x="273.40" y="750.90" width="13.90" height="5.90" fill="#F9A030" stroke="#444" stroke-width="0.6"/>
<path d="M273.40 753.80H287.30" stroke="#333" stroke-width="1.1"/>
<path d="M304.95 746.50V759.40" stroke="#7a7a7a" stroke-width="0.8"/>
<rect x="298.30" y="759.40" width="13.30" height="17.00" fill="#58A8E0" stroke="#444" stroke-width="0.6"/>
<path d="M298.30 768.60H311.60" stroke="#333" stroke-width="1.1"/>
<rect x="313.40" y="791.30" width="13.30" height="0.80" fill="#F9A030" stroke="#444" stroke-width="0.6"/>
<path d="M313.40 791.60H326.70" stroke="#333" stroke-width="1.1"/>
<rect x="338.00" y="732.60" width="13.60" height="3.90" fill="#58A8E0" stroke="#444" stroke-width="0.6"/>
<path d="M338.00 735.60H351.60" stroke="#333" stroke-width="1.1"/>
<path d="M360.00 750.30V751.70" stroke="#7a7a7a" stroke-width="0.8"/>
<rect x="353.30" y="751.70" width="13.40" height="8.70" fill="#F9A030" stroke="#444" stroke-width="0.6"/>
<path d="M353.30 753.80H366.70" stroke="#333" stroke-width="1.1"/>
<path d="M400.80 717.80V723.40" stroke="#7a7a7a" stroke-width="0.8"/>
<rect x="395.30" y="723.40" width="11.00" height="6.30" fill="#58A8E0" stroke="#444" stroke-width="0.6"/>
<path d="M395.30 726.70H406.30" stroke="#333" stroke-width="1.1"/>
<rect x="407.40" y="700.70" width="10.60" height="4.30" fill="#F9A030" stroke="#444" stroke-width="0.6"/>
<path d="M407.40 703.00H418.00" stroke="#333" stroke-width="1.1"/>
<path d="M431.80 741.40V750.30" stroke="#7a7a7a" stroke-width="0.8"/>
<path d="M431.80 757.00V758.40" stroke="#7a7a7a" stroke-width="0.8"/>
<rect x="426.50" y="750.30" width="10.60" height="6.70" fill="#58A8E0" stroke="#444" stroke-width="0.6"/>
<path d="M426.50 754.40H437.10" stroke="#333" stroke-width="1.1"/>
<path d="M443.65 718.70V723.10" stroke="#7a7a7a" stroke-width="0.8"/>
<path d="M443.65 735.80V741.10" stroke="#7a7a7a" stroke-width="0.8"/>
<rect x="438.30" y="723.10" width="10.70" height="12.70" fill="#F9A030" stroke="#444" stroke-width="0.6"/>
<path d="M438.30 728.70H449.00" stroke="#333" stroke-width="1.1"/>
<path d="M462.90 743.40V758.10" stroke="#7a7a7a" stroke-width="0.8"/>
<path d="M462.90 778.10V785.90" stroke="#7a7a7a" stroke-width="0.8"/>
<rect x="457.70" y="758.10" width="10.40" height="20.00" fill="#58A8E0" stroke="#444" stroke-width="0.6"/>
<path d="M457.70 768.50H468.10" stroke="#333" stroke-width="1.1"/>
<path d="M474.55 733.40V739.10" stroke="#7a7a7a" stroke-width="0.8"/>
<rect x="469.40" y="739.10" width="10.30" height="10.00" fill="#F9A030" stroke="#444" stroke-width="0.6"/>
<path d="M469.40 744.70H479.70" stroke="#333" stroke-width="1.1"/>
<rect x="488.30" y="739.70" width="10.80" height="5.70" fill="#58A8E0" stroke="#444" stroke-width="0.6"/>
<path d="M488.30 741.00H499.10" stroke="#333" stroke-width="1.1"/>
<path d="M505.50 705.40V710.30" stroke="#7a7a7a" stroke-width="0.8"/>
<rect x="500.30" y="710.30" width="10.40" height="19.10" fill="#F9A030" stroke="#444" stroke-width="0.6"/>
<path d="M500.30 720.50H510.70" stroke="#333" stroke-width="1.1"/>
<path d="M525.00 740.10V742.80" stroke="#7a7a7a" stroke-width="0.8"/>
<path d="M525.00 750.50V755.40" stroke="#7a7a7a" stroke-width="0.8"/>
<rect x="519.70" y="742.80" width="10.60" height="7.70" fill="#58A8E0" stroke="#444" stroke-width="0.6"/>
<path d="M519.70 746.40H530.30" stroke="#333" stroke-width="1.1"/>
<path d="M536.60 708.70V711.10" stroke="#7a7a7a" stroke-width="0.8"/>
<path d="M536.60 724.70V734.10" stroke="#7a7a7a" stroke-width="0.8"/>
<rect x="531.40" y="711.10" width="10.40" height="13.60" fill="#F9A030" stroke="#444" stroke-width="0.6"/>
<path d="M531.40 716.50H541.80" stroke="#333" stroke-width="1.1"/>
<path d="M555.75 733.80V746.10" stroke="#7a7a7a" stroke-width="0.8"/>
<rect x="550.50" y="746.10" width="10.50" height="10.90" fill="#58A8E0" stroke="#444" stroke-width="0.6"/>
<path d="M550.50 753.40H561.00" stroke="#333" stroke-width="1.1"/>
<path d="M567.60 689.40V695.80" stroke="#7a7a7a" stroke-width="0.8"/>
<path d="M567.60 731.10V743.80" stroke="#7a7a7a" stroke-width="0.8"/>
<rect x="562.40" y="695.80" width="10.40" height="35.30" fill="#F9A030" stroke="#444" stroke-width="0.6"/>
<path d="M562.40 712.10H572.80" stroke="#333" stroke-width="1.1"/>
<path d="M586.90 704.70V710.10" stroke="#7a7a7a" stroke-width="0.8"/>
<path d="M586.90 716.70V724.70" stroke="#7a7a7a" stroke-width="0.8"/>
<rect x="581.50" y="710.10" width="10.80" height="6.60" fill="#58A8E0" stroke="#444" stroke-width="0.6"/>
<path d="M581.50 712.30H592.30" stroke="#333" stroke-width="1.1"/>
<path d="M598.50 652.60V659.20" stroke="#7a7a7a" stroke-width="0.8"/>
<path d="M598.50 695.60V699.90" stroke="#7a7a7a" stroke-width="0.8"/>
<rect x="593.20" y="659.20" width="10.60" height="36.40" fill="#F9A030" stroke="#444" stroke-width="0.6"/>
<path d="M593.20 677.30H603.80" stroke="#333" stroke-width="1.1"/>
<path d="M617.75 668.70V676.10" stroke="#7a7a7a" stroke-width="0.8"/>
<path d="M617.75 681.50V688.60" stroke="#7a7a7a" stroke-width="0.8"/>
<rect x="612.60" y="676.10" width="10.30" height="5.40" fill="#58A8E0" stroke="#444" stroke-width="0.6"/>
<path d="M612.60 678.30H622.90" stroke="#333" stroke-width="1.1"/>
<rect x="624.30" y="627.90" width="10.60" height="5.60" fill="#F9A030" stroke="#444" stroke-width="0.6"/>
<path d="M624.30 628.40H634.90" stroke="#333" stroke-width="1.1"/>
<rect x="644.10" y="792.10" width="10.70" height="0.80" fill="#58A8E0" stroke="#444" stroke-width="0.6"/>
<path d="M644.10 792.40H654.80" stroke="#333" stroke-width="1.1"/>
<rect x="655.10" y="695.50" width="10.70" height="24.90" fill="#F9A030" stroke="#444" stroke-width="0.6"/>
<path d="M655.10 695.80H665.80" stroke="#333" stroke-width="1.1"/>
<g fill="#111"><circle cx="106.0" cy="626.5" r="1.35"/><circle cx="116.9" cy="626.5" r="1.35"/><circle cx="129.7" cy="629.7" r="1.35"/><circle cx="106.8" cy="653.5" r="1.35"/><circle cx="110.0" cy="653.5" r="1.35"/><circle cx="102.0" cy="792.6" r="1.35"/><circle cx="108.4" cy="792.0" r="1.35"/><circle cx="113.1" cy="790.5" r="1.35"/><circle cx="121.2" cy="791.2" r="1.35"/><circle cx="143.6" cy="737.6" r="1.35"/><circle cx="147.6" cy="748.9" r="1.35"/><circle cx="145.5" cy="752.0" r="1.35"/><circle cx="156.9" cy="750.1" r="1.35"/><circle cx="168.9" cy="740.9" r="1.35"/><circle cx="152.1" cy="768.0" r="1.35"/><circle cx="169.3" cy="791.4" r="1.35"/><circle cx="183.7" cy="753.3" r="1.35"/><circle cx="184.2" cy="759.7" r="1.35"/><circle cx="196.2" cy="749.7" r="1.35"/><circle cx="204.2" cy="732.9" r="1.35"/><circle cx="201.6" cy="746.2" r="1.35"/><circle cx="181.6" cy="779.7" r="1.35"/><circle cx="201.6" cy="791.4" r="1.35"/><circle cx="217.8" cy="734.4" r="1.35"/><circle cx="220.5" cy="736.9" r="1.35"/><circle cx="232.2" cy="742.9" r="1.35"/><circle cx="246.5" cy="737.6" r="1.35"/><circle cx="246.2" cy="760.0" r="1.35"/><circle cx="221.0" cy="769.8" r="1.35"/><circle cx="226.2" cy="770.6" r="1.35"/><circle cx="233.8" cy="764.5" r="1.35"/><circle cx="260.8" cy="726.0" r="1.35"/><circle cx="280.7" cy="720.3" r="1.35"/><circle cx="288.5" cy="722.6" r="1.35"/><circle cx="284.2" cy="735.6" r="1.35"/><circle cx="267.7" cy="751.7" r="1.35"/><circle cx="269.1" cy="757.8" r="1.35"/><circle cx="274.7" cy="748.3" r="1.35"/><circle cx="286.5" cy="755.9" r="1.35"/><circle cx="303.5" cy="763.4" r="1.35"/><circle cx="304.3" cy="781.1" r="1.35"/><circle cx="300.9" cy="791.7" r="1.35"/><circle cx="305.0" cy="792.9" r="1.35"/><circle cx="319.4" cy="746.9" r="1.35"/><circle cx="328.1" cy="775.2" r="1.35"/><circle cx="316.8" cy="791.1" r="1.35"/><circle cx="319.4" cy="790.6" r="1.35"/><circle cx="344.6" cy="723.1" r="1.35"/><circle cx="350.2" cy="723.1" r="1.35"/><circle cx="337.3" cy="736.1" r="1.35"/><circle cx="343.8" cy="737.0" r="1.35"/><circle cx="348.1" cy="735.6" r="1.35"/><circle cx="341.5" cy="750.3" r="1.35"/><circle cx="343.4" cy="752.1" r="1.35"/><circle cx="343.8" cy="755.6" r="1.35"/><circle cx="336.3" cy="773.3" r="1.35"/><circle cx="359.4" cy="773.3" r="1.35"/><circle cx="401.1" cy="704.0" r="1.35"/><circle cx="406.4" cy="717.8" r="1.35"/><circle cx="404.3" cy="725.0" r="1.35"/><circle cx="404.3" cy="729.4" r="1.35"/><circle cx="411.6" cy="729.8" r="1.35"/><circle cx="413.8" cy="700.7" r="1.35"/><circle cx="414.7" cy="707.0" r="1.35"/><circle cx="426.0" cy="719.1" r="1.35"/><circle cx="432.1" cy="742.1" r="1.35"/><circle cx="431.4" cy="743.7" r="1.35"/><circle cx="429.1" cy="755.7" r="1.35"/><circle cx="442.3" cy="753.0" r="1.35"/><circle cx="444.3" cy="759.0" r="1.35"/><circle cx="447.8" cy="724.0" r="1.35"/><circle cx="447.4" cy="733.8" r="1.35"/><circle cx="464.1" cy="733.8" r="1.35"/><circle cx="464.1" cy="748.7" r="1.35"/><circle cx="468.4" cy="786.1" r="1.35"/><circle cx="470.5" cy="740.7" r="1.35"/><circle cx="471.4" cy="743.7" r="1.35"/><circle cx="480.8" cy="749.7" r="1.35"/><circle cx="479.9" cy="762.5" r="1.35"/><circle cx="478.4" cy="775.4" r="1.35"/><circle cx="491.7" cy="711.7" r="1.35"/><circle cx="498.4" cy="705.8" r="1.35"/><circle cx="491.1" cy="729.4" r="1.35"/><circle cx="492.7" cy="741.4" r="1.35"/><circle cx="493.8" cy="757.4" r="1.35"/><circle cx="505.6" cy="740.1" r="1.35"/><circle cx="511.4" cy="738.8" r="1.35"/><circle cx="511.4" cy="729.4" r="1.35"/><circle cx="505.4" cy="757.4" r="1.35"/><circle cx="522.5" cy="743.4" r="1.35"/><circle cx="527.8" cy="740.1" r="1.35"/><circle cx="519.7" cy="756.5" r="1.35"/><circle cx="536.1" cy="748.8" r="1.35"/><circle cx="533.1" cy="711.8" r="1.35"/><circle cx="542.1" cy="708.5" r="1.35"/><circle cx="539.0" cy="721.1" r="1.35"/><circle cx="538.7" cy="734.8" r="1.35"/><circle cx="552.8" cy="744.4" r="1.35"/><circle cx="559.4" cy="750.5" r="1.35"/><circle cx="560.1" cy="757.5" r="1.35"/><circle cx="558.8" cy="726.7" r="1.35"/><circle cx="557.4" cy="689.4" r="1.35"/><circle cx="569.2" cy="698.0" r="1.35"/><circle cx="571.9" cy="733.7" r="1.35"/><circle cx="603.4" cy="725.6" r="1.35"/><circle cx="580.3" cy="652.9" r="1.35"/><circle cx="590.3" cy="694.0" r="1.35"/><circle cx="580.7" cy="700.6" r="1.35"/><circle cx="592.8" cy="704.7" r="1.35"/><circle cx="597.2" cy="713.5" r="1.35"/><circle cx="602.3" cy="711.3" r="1.35"/><circle cx="604.5" cy="661.4" r="1.35"/><circle cx="620.7" cy="626.4" r="1.35"/><circle cx="627.7" cy="629.5" r="1.35"/><circle cx="634.2" cy="628.4" r="1.35"/><circle cx="611.9" cy="642.6" r="1.35"/><circle cx="629.5" cy="642.6" r="1.35"/><circle cx="622.9" cy="668.7" r="1.35"/><circle cx="623.9" cy="678.7" r="1.35"/><circle cx="634.2" cy="678.6" r="1.35"/><circle cx="612.3" cy="689.0" r="1.35"/><circle cx="642.2" cy="696.0" r="1.35"/><circle cx="653.2" cy="695.0" r="1.35"/><circle cx="655.9" cy="696.6" r="1.35"/><circle cx="645.5" cy="792.4" r="1.35"/><circle cx="648.5" cy="792.4" r="1.35"/><circle cx="651.5" cy="792.4" r="1.35"/><circle cx="653.5" cy="792.8" r="1.35"/><circle cx="660.0" cy="792.0" r="1.35"/><circle cx="662.5" cy="792.4" r="1.35"/><circle cx="664.8" cy="792.8" r="1.35"/></g>
<rect x="90.60" y="618.20" width="285.20" height="182.20" fill="none" stroke="#8a8a8a" stroke-width="1"/>
<rect x="388.20" y="618.20" width="285.30" height="182.20" fill="none" stroke="#8a8a8a" stroke-width="1"/>
<rect x="90.60" y="607.80" width="285.20" height="10.40" fill="#D9D9D9" stroke="#9a9a9a" stroke-width="1"/>
<text x="233.20" y="615.00" font-size="5.6" text-anchor="middle" fill="#333">down</text>
<rect x="388.20" y="607.80" width="285.30" height="10.40" fill="#D9D9D9" stroke="#9a9a9a" stroke-width="1"/>
<text x="530.85" y="615.00" font-size="5.6" text-anchor="middle" fill="#333">up</text>
<text x="88.10" y="802.40" font-size="5.4" text-anchor="end" fill="#555">2</text>
<text x="88.10" y="754.74" font-size="5.4" text-anchor="end" fill="#555">4</text>
<text x="88.10" y="707.08" font-size="5.4" text-anchor="end" fill="#555">6</text>
<text x="88.10" y="659.42" font-size="5.4" text-anchor="end" fill="#555">8</text>
<text x="385.70" y="800.90" font-size="5.4" text-anchor="end" fill="#555">2</text>
<text x="385.70" y="762.00" font-size="5.4" text-anchor="end" fill="#555">4</text>
<text x="385.70" y="723.10" font-size="5.4" text-anchor="end" fill="#555">6</text>
<text x="385.70" y="684.20" font-size="5.4" text-anchor="end" fill="#555">8</text>
<text x="385.70" y="645.30" font-size="5.4" text-anchor="end" fill="#555">10</text>
<text x="114.40" y="808.4" font-size="5.4" text-anchor="middle" fill="#555">SLC9A3</text>
<text x="154.00" y="808.4" font-size="5.4" text-anchor="middle" fill="#555">GPX3</text>
<text x="193.60" y="808.4" font-size="5.4" text-anchor="middle" fill="#555">SSTR3</text>
<text x="233.20" y="808.4" font-size="5.4" text-anchor="middle" fill="#555">IL18</text>
<text x="272.80" y="808.4" font-size="5.4" text-anchor="middle" fill="#555">CTSD</text>
<text x="312.40" y="808.4" font-size="5.4" text-anchor="middle" fill="#555">CCL16</text>
<text x="352.00" y="808.4" font-size="5.4" text-anchor="middle" fill="#555">DAPK3</text>
<text x="406.80" y="808.4" font-size="5.4" text-anchor="middle" fill="#555">FKBP2</text>
<text x="437.80" y="808.4" font-size="5.4" text-anchor="middle" fill="#555">HDAC4</text>
<text x="468.80" y="808.4" font-size="5.4" text-anchor="middle" fill="#555">MGAT3</text>
<text x="499.80" y="808.4" font-size="5.4" text-anchor="middle" fill="#555">MUC2</text>
<text x="530.80" y="808.4" font-size="5.4" text-anchor="middle" fill="#555">NFKB1</text>
<text x="561.80" y="808.4" font-size="5.4" text-anchor="middle" fill="#555">SLC22A6</text>
<text x="592.80" y="808.4" font-size="5.4" text-anchor="middle" fill="#555">GLP1R</text>
<text x="623.80" y="808.4" font-size="5.4" text-anchor="middle" fill="#555">TLR9</text>
<text x="654.80" y="808.4" font-size="5.4" text-anchor="middle" fill="#555">KITLG</text>
<path d="M89.10 800.50H90.60M89.10 752.84H90.60M89.10 705.18H90.60M89.10 657.52H90.60M386.70 799.00H388.20M386.70 760.10H388.20M386.70 721.20H388.20M386.70 682.30H388.20M386.70 643.40H388.20M114.40 800.40V801.90M154.00 800.40V801.90M193.60 800.40V801.90M233.20 800.40V801.90M272.80 800.40V801.90M312.40 800.40V801.90M352.00 800.40V801.90M406.80 800.40V801.90M437.80 800.40V801.90M468.80 800.40V801.90M499.80 800.40V801.90M530.80 800.40V801.90M561.80 800.40V801.90M592.80 800.40V801.90M623.80 800.40V801.90M654.80 800.40V801.90" stroke="#777" stroke-width="0.6"/>
<text x="0" y="0" font-size="6.6" text-anchor="middle" fill="#222" transform="translate(82.3 709.6) rotate(-90)">count</text>
<text x="375" y="815.8" font-size="6.6" fill="#222">gene</text>
<text transform="translate(683.0 701.2) scale(0.9 1)" font-size="6.6" fill="#333">group</text>
<path d="M687.5 705.70V712.70" stroke="#7a7a7a" stroke-width="0.8"/>
<rect x="683.9" y="706.90" width="7.4" height="4.6" fill="#58A8E0" stroke="#444" stroke-width="0.6"/>
<path d="M683.9 709.20H691.3" stroke="#333" stroke-width="0.9"/>
<text transform="translate(695.7 711.50) scale(0.88 1)" font-size="6" fill="#444">Normal</text>
<path d="M687.5 715.80V722.80" stroke="#7a7a7a" stroke-width="0.8"/>
<rect x="683.9" y="717.00" width="7.4" height="4.6" fill="#F9A030" stroke="#444" stroke-width="0.6"/>
<path d="M683.9 719.30H691.3" stroke="#333" stroke-width="0.9"/>
<text transform="translate(695.7 721.60) scale(0.88 1)" font-size="6" fill="#444">POAG</text>
</svg></body></html>
